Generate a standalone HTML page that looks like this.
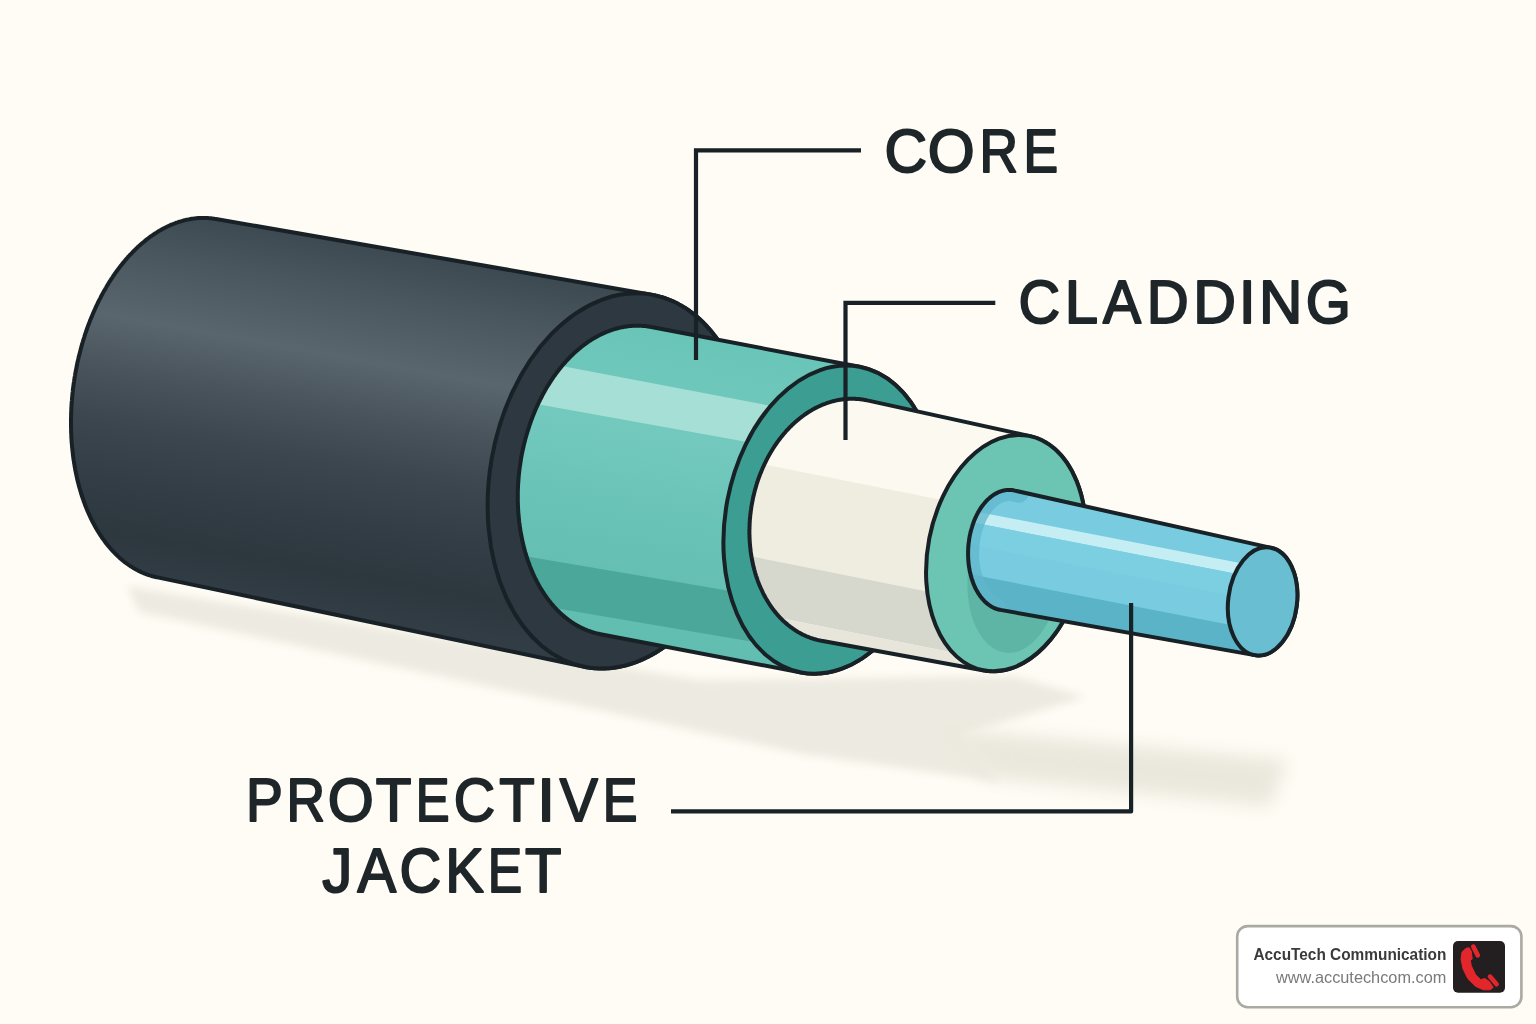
<!DOCTYPE html>
<html><head><meta charset="utf-8"><style>
html,body{margin:0;padding:0;width:1536px;height:1024px;overflow:hidden;background:#fefcf4}
svg{display:block}
</style></head><body>
<svg width="1536" height="1024" viewBox="0 0 1536 1024" style="position:absolute;left:0;top:0"><defs><clipPath id="cj"><path d="M215.9 219.0 L651.4 294.7 L652.6 294.9 L653.7 295.1 L654.8 295.3 L655.9 295.6 L657.0 295.8 L658.1 296.1 L659.2 296.4 L660.2 296.7 L661.3 297.0 L662.4 297.3 L663.5 297.7 L664.6 298.0 L665.6 298.4 L666.7 298.8 L667.8 299.2 L668.8 299.6 L669.9 300.0 L670.9 300.5 L672.0 300.9 L673.0 301.4 L674.1 301.9 L675.1 302.3 L676.2 302.9 L677.2 303.4 L678.2 303.9 L679.2 304.5 L680.2 305.0 L681.3 305.6 L682.3 306.2 L683.3 306.8 L684.3 307.4 L685.3 308.0 L686.2 308.7 L687.2 309.3 L688.2 310.0 L689.2 310.7 L690.1 311.4 L691.1 312.1 L692.0 312.8 L693.0 313.5 L693.9 314.3 L694.9 315.0 L695.8 315.8 L696.7 316.6 L697.7 317.4 L698.6 318.2 L699.5 319.0 L700.4 319.8 L701.3 320.7 L702.2 321.5 L703.1 322.4 L703.9 323.3 L704.8 324.2 L705.7 325.1 L706.5 326.0 L707.4 326.9 L708.2 327.9 L709.0 328.8 L709.9 329.8 L710.7 330.7 L711.5 331.7 L712.3 332.7 L713.1 333.7 L713.9 334.8 L714.7 335.8 L715.5 336.8 L716.3 337.9 L717.0 338.9 L717.8 340.0 L718.5 341.1 L719.3 342.2 L720.0 343.3 L720.7 344.4 L721.5 345.6 L722.2 346.7 L722.9 347.8 L723.6 349.0 L724.3 350.2 L724.9 351.3 L725.6 352.5 L726.3 353.7 L726.9 354.9 L727.6 356.2 L728.2 357.4 L728.9 358.6 L729.5 359.9 L730.1 361.1 L730.7 362.4 L731.3 363.7 L731.9 364.9 L732.5 366.2 L733.0 367.5 L733.6 368.8 L734.1 370.2 L734.7 371.5 L735.2 372.8 L735.8 374.2 L736.3 375.5 L736.8 376.9 L737.3 378.2 L737.8 379.6 L738.3 381.0 L738.7 382.4 L739.2 383.8 L739.7 385.2 L740.1 386.6 L740.5 388.0 L741.0 389.4 L741.4 390.9 L741.8 392.3 L742.2 393.7 L742.6 395.2 L743.0 396.7 L743.3 398.1 L743.7 399.6 L744.0 401.1 L744.4 402.6 L744.7 404.0 L745.0 405.5 L745.4 407.0 L745.7 408.5 L746.0 410.1 L746.2 411.6 L746.5 413.1 L746.8 414.6 L747.0 416.2 L747.3 417.7 L747.5 419.2 L747.8 420.8 L748.0 422.3 L748.2 423.9 L748.4 425.5 L748.6 427.0 L748.7 428.6 L748.9 430.2 L749.1 431.8 L749.2 433.3 L749.4 434.9 L749.5 436.5 L749.6 438.1 L749.7 439.7 L749.8 441.3 L749.9 442.9 L750.0 444.5 L750.0 446.1 L750.1 447.7 L750.1 449.3 L750.2 450.9 L750.2 452.6 L750.2 454.2 L750.2 455.8 L750.2 457.4 L750.2 459.0 L750.2 460.7 L750.2 462.3 L750.1 463.9 L750.1 465.6 L750.0 467.2 L749.9 468.8 L749.9 470.5 L749.8 472.1 L749.7 473.7 L749.6 475.4 L749.4 477.0 L749.3 478.6 L749.2 480.3 L749.0 481.9 L748.8 483.5 L748.7 485.2 L748.5 486.8 L748.3 488.5 L748.1 490.1 L747.9 491.7 L747.7 493.4 L747.4 495.0 L747.2 496.6 L747.0 498.3 L746.7 499.9 L746.4 501.5 L746.1 503.1 L745.9 504.8 L745.6 506.4 L745.3 508.0 L744.9 509.6 L744.6 511.2 L744.3 512.9 L743.9 514.5 L743.6 516.1 L743.2 517.7 L742.8 519.3 L742.4 520.9 L742.1 522.5 L741.6 524.1 L741.2 525.7 L740.8 527.3 L740.4 528.8 L739.9 530.4 L739.5 532.0 L739.0 533.6 L738.6 535.1 L738.1 536.7 L737.6 538.3 L737.1 539.8 L736.6 541.4 L736.1 542.9 L735.6 544.5 L735.0 546.0 L734.5 547.5 L734.0 549.1 L733.4 550.6 L732.8 552.1 L732.3 553.6 L731.7 555.1 L731.1 556.6 L730.5 558.1 L729.9 559.6 L729.3 561.1 L728.6 562.6 L728.0 564.0 L727.4 565.5 L726.7 566.9 L726.0 568.4 L725.4 569.8 L724.7 571.3 L724.0 572.7 L723.3 574.1 L722.6 575.6 L721.9 577.0 L721.2 578.4 L720.5 579.8 L719.8 581.1 L719.0 582.5 L718.3 583.9 L717.5 585.3 L716.8 586.6 L716.0 588.0 L715.2 589.3 L714.4 590.6 L713.6 592.0 L712.8 593.3 L712.0 594.6 L711.2 595.9 L710.4 597.2 L709.6 598.4 L708.7 599.7 L707.9 601.0 L707.1 602.2 L706.2 603.5 L705.4 604.7 L704.5 605.9 L703.6 607.2 L702.7 608.4 L701.8 609.6 L701.0 610.7 L700.1 611.9 L699.2 613.1 L698.2 614.2 L697.3 615.4 L696.4 616.5 L695.5 617.6 L694.5 618.8 L693.6 619.9 L692.7 621.0 L691.7 622.0 L690.8 623.1 L689.8 624.2 L688.8 625.2 L687.8 626.3 L686.9 627.3 L685.9 628.3 L684.9 629.3 L683.9 630.3 L682.9 631.3 L681.9 632.3 L680.9 633.2 L679.9 634.2 L678.9 635.1 L677.8 636.0 L676.8 637.0 L675.8 637.9 L674.8 638.8 L673.7 639.6 L672.7 640.5 L671.6 641.4 L670.6 642.2 L669.5 643.0 L668.5 643.8 L667.4 644.6 L666.3 645.4 L665.3 646.2 L664.2 647.0 L663.1 647.7 L662.0 648.5 L660.9 649.2 L659.9 649.9 L658.8 650.6 L657.7 651.3 L656.6 652.0 L655.5 652.7 L654.4 653.3 L653.3 653.9 L652.2 654.6 L651.0 655.2 L649.9 655.8 L648.8 656.4 L647.7 656.9 L646.6 657.5 L645.5 658.0 L644.3 658.6 L643.2 659.1 L642.1 659.6 L641.0 660.1 L639.8 660.6 L638.7 661.0 L637.6 661.5 L636.4 661.9 L635.3 662.3 L634.2 662.7 L633.0 663.1 L631.9 663.5 L630.7 663.9 L629.6 664.2 L628.5 664.6 L627.3 664.9 L626.2 665.2 L625.0 665.5 L623.9 665.8 L622.7 666.1 L621.6 666.3 L620.4 666.6 L619.3 666.8 L618.1 667.0 L617.0 667.2 L615.9 667.4 L614.7 667.5 L613.6 667.7 L612.4 667.8 L611.3 668.0 L610.1 668.1 L609.0 668.2 L607.8 668.3 L606.7 668.3 L605.6 668.4 L604.4 668.4 L603.3 668.5 L602.1 668.5 L601.0 668.5 L599.9 668.5 L598.7 668.4 L597.6 668.4 L596.5 668.3 L595.4 668.2 L594.2 668.2 L593.1 668.1 L592.0 667.9 L590.9 667.8 L589.7 667.7 L588.6 667.5 L587.5 667.3 L586.4 667.2 L585.3 667.0 L584.2 666.7 L583.1 666.5 L157.5 577.4 L156.5 577.2 L155.5 577.0 L154.6 576.8 L153.6 576.5 L152.6 576.3 L151.6 576.0 L150.7 575.7 L149.7 575.4 L148.8 575.1 L147.8 574.8 L146.8 574.4 L145.9 574.1 L144.9 573.7 L144.0 573.3 L143.0 572.9 L142.1 572.5 L141.2 572.1 L140.2 571.6 L139.3 571.2 L138.4 570.7 L137.5 570.3 L136.5 569.8 L135.6 569.3 L134.7 568.8 L133.8 568.2 L132.9 567.7 L132.0 567.1 L131.1 566.6 L130.2 566.0 L129.4 565.4 L128.5 564.8 L127.6 564.2 L126.7 563.6 L125.9 562.9 L125.0 562.3 L124.1 561.6 L123.3 560.9 L122.4 560.2 L121.6 559.5 L120.8 558.8 L119.9 558.1 L119.1 557.3 L118.3 556.6 L117.5 555.8 L116.7 555.0 L115.9 554.3 L115.1 553.5 L114.3 552.6 L113.5 551.8 L112.7 551.0 L111.9 550.1 L111.1 549.3 L110.4 548.4 L109.6 547.5 L108.9 546.6 L108.1 545.7 L107.4 544.8 L106.6 543.9 L105.9 543.0 L105.2 542.0 L104.5 541.0 L103.8 540.1 L103.0 539.1 L102.3 538.1 L101.7 537.1 L101.0 536.1 L100.3 535.1 L99.6 534.0 L99.0 533.0 L98.3 531.9 L97.6 530.9 L97.0 529.8 L96.4 528.7 L95.7 527.6 L95.1 526.5 L94.5 525.4 L93.9 524.3 L93.3 523.1 L92.7 522.0 L92.1 520.8 L91.5 519.7 L90.9 518.5 L90.4 517.3 L89.8 516.1 L89.3 514.9 L88.7 513.7 L88.2 512.5 L87.7 511.3 L87.1 510.1 L86.6 508.8 L86.1 507.6 L85.6 506.3 L85.1 505.0 L84.7 503.8 L84.2 502.5 L83.7 501.2 L83.3 499.9 L82.8 498.6 L82.4 497.3 L81.9 496.0 L81.5 494.6 L81.1 493.3 L80.7 492.0 L80.3 490.6 L79.9 489.2 L79.5 487.9 L79.1 486.5 L78.7 485.1 L78.4 483.7 L78.0 482.4 L77.7 481.0 L77.3 479.6 L77.0 478.1 L76.7 476.7 L76.4 475.3 L76.1 473.9 L75.8 472.4 L75.5 471.0 L75.2 469.6 L75.0 468.1 L74.7 466.7 L74.5 465.2 L74.2 463.7 L74.0 462.3 L73.8 460.8 L73.5 459.3 L73.3 457.8 L73.1 456.3 L72.9 454.8 L72.8 453.3 L72.6 451.8 L72.4 450.3 L72.3 448.8 L72.1 447.3 L72.0 445.8 L71.9 444.3 L71.7 442.7 L71.6 441.2 L71.5 439.7 L71.4 438.2 L71.3 436.6 L71.3 435.1 L71.2 433.5 L71.1 432.0 L71.1 430.4 L71.1 428.9 L71.0 427.3 L71.0 425.8 L71.0 424.2 L71.0 422.7 L71.0 421.1 L71.0 419.5 L71.0 418.0 L71.1 416.4 L71.1 414.8 L71.1 413.3 L71.2 411.7 L71.3 410.1 L71.3 408.6 L71.4 407.0 L71.5 405.4 L71.6 403.8 L71.7 402.3 L71.9 400.7 L72.0 399.1 L72.1 397.5 L72.3 396.0 L72.4 394.4 L72.6 392.8 L72.8 391.2 L72.9 389.7 L73.1 388.1 L73.3 386.5 L73.5 384.9 L73.7 383.4 L74.0 381.8 L74.2 380.2 L74.4 378.7 L74.7 377.1 L75.0 375.5 L75.2 374.0 L75.5 372.4 L75.8 370.9 L76.1 369.3 L76.4 367.8 L76.7 366.2 L77.0 364.7 L77.3 363.1 L77.7 361.6 L78.0 360.0 L78.4 358.5 L78.7 357.0 L79.1 355.4 L79.5 353.9 L79.9 352.4 L80.3 350.9 L80.7 349.3 L81.1 347.8 L81.5 346.3 L81.9 344.8 L82.3 343.3 L82.8 341.8 L83.2 340.3 L83.7 338.8 L84.2 337.3 L84.6 335.9 L85.1 334.4 L85.6 332.9 L86.1 331.5 L86.6 330.0 L87.1 328.5 L87.6 327.1 L88.2 325.6 L88.7 324.2 L89.3 322.8 L89.8 321.3 L90.4 319.9 L90.9 318.5 L91.5 317.1 L92.1 315.7 L92.7 314.3 L93.3 312.9 L93.9 311.5 L94.5 310.1 L95.1 308.8 L95.7 307.4 L96.3 306.1 L97.0 304.7 L97.6 303.4 L98.3 302.0 L98.9 300.7 L99.6 299.4 L100.3 298.1 L100.9 296.8 L101.6 295.5 L102.3 294.2 L103.0 292.9 L103.7 291.6 L104.4 290.4 L105.2 289.1 L105.9 287.9 L106.6 286.6 L107.3 285.4 L108.1 284.2 L108.8 282.9 L109.6 281.7 L110.3 280.5 L111.1 279.3 L111.9 278.2 L112.7 277.0 L113.4 275.8 L114.2 274.7 L115.0 273.5 L115.8 272.4 L116.6 271.3 L117.4 270.2 L118.3 269.1 L119.1 268.0 L119.9 266.9 L120.7 265.8 L121.6 264.8 L122.4 263.7 L123.3 262.7 L124.1 261.6 L125.0 260.6 L125.8 259.6 L126.7 258.6 L127.6 257.6 L128.4 256.6 L129.3 255.7 L130.2 254.7 L131.1 253.8 L132.0 252.8 L132.9 251.9 L133.8 251.0 L134.7 250.1 L135.6 249.2 L136.5 248.3 L137.4 247.4 L138.4 246.6 L139.3 245.7 L140.2 244.9 L141.1 244.1 L142.1 243.3 L143.0 242.5 L144.0 241.7 L144.9 240.9 L145.9 240.1 L146.8 239.4 L147.8 238.7 L148.7 237.9 L149.7 237.2 L150.6 236.5 L151.6 235.8 L152.6 235.1 L153.6 234.5 L154.5 233.8 L155.5 233.2 L156.5 232.6 L157.5 231.9 L158.5 231.3 L159.4 230.8 L160.4 230.2 L161.4 229.6 L162.4 229.1 L163.4 228.5 L164.4 228.0 L165.4 227.5 L166.4 227.0 L167.4 226.5 L168.4 226.0 L169.4 225.6 L170.4 225.1 L171.4 224.7 L172.4 224.3 L173.5 223.9 L174.5 223.5 L175.5 223.1 L176.5 222.7 L177.5 222.4 L178.5 222.0 L179.5 221.7 L180.6 221.4 L181.6 221.1 L182.6 220.8 L183.6 220.5 L184.6 220.3 L185.6 220.0 L186.7 219.8 L187.7 219.6 L188.7 219.4 L189.7 219.2 L190.7 219.0 L191.8 218.8 L192.8 218.7 L193.8 218.6 L194.8 218.4 L195.8 218.3 L196.8 218.2 L197.9 218.1 L198.9 218.1 L199.9 218.0 L200.9 218.0 L201.9 218.0 L202.9 217.9 L203.9 217.9 L204.9 218.0 L205.9 218.0 L206.9 218.0 L207.9 218.1 L208.9 218.2 L209.9 218.2 L210.9 218.3 L211.9 218.4 L212.9 218.6 L213.9 218.7 L214.9 218.9 Z"/></clipPath><clipPath id="ct"><path d="M600.5 634.2 L599.5 634.0 L598.6 633.8 L597.7 633.6 L596.8 633.4 L595.9 633.2 L595.0 632.9 L594.1 632.7 L593.2 632.4 L592.3 632.1 L591.4 631.8 L590.5 631.6 L589.6 631.2 L588.7 630.9 L587.8 630.6 L587.0 630.2 L586.1 629.9 L585.2 629.5 L584.3 629.1 L583.5 628.7 L582.6 628.3 L581.7 627.9 L580.9 627.5 L580.0 627.1 L579.2 626.6 L578.3 626.2 L577.5 625.7 L576.6 625.2 L575.8 624.7 L575.0 624.2 L574.1 623.7 L573.3 623.2 L572.5 622.7 L571.7 622.1 L570.9 621.6 L570.0 621.0 L569.2 620.4 L568.4 619.8 L567.6 619.2 L566.8 618.6 L566.1 618.0 L565.3 617.4 L564.5 616.7 L563.7 616.1 L563.0 615.4 L562.2 614.8 L561.4 614.1 L560.7 613.4 L559.9 612.7 L559.2 612.0 L558.4 611.2 L557.7 610.5 L557.0 609.8 L556.3 609.0 L555.5 608.3 L554.8 607.5 L554.1 606.7 L553.4 605.9 L552.7 605.1 L552.0 604.3 L551.3 603.5 L550.7 602.7 L550.0 601.8 L549.3 601.0 L548.6 600.1 L548.0 599.3 L547.3 598.4 L546.7 597.5 L546.1 596.6 L545.4 595.7 L544.8 594.8 L544.2 593.9 L543.6 592.9 L543.0 592.0 L542.3 591.1 L541.8 590.1 L541.2 589.2 L540.6 588.2 L540.0 587.2 L539.4 586.2 L538.9 585.2 L538.3 584.2 L537.8 583.2 L537.2 582.2 L536.7 581.2 L536.2 580.1 L535.6 579.1 L535.1 578.1 L534.6 577.0 L534.1 575.9 L533.6 574.9 L533.1 573.8 L532.6 572.7 L532.2 571.6 L531.7 570.5 L531.2 569.4 L530.8 568.3 L530.3 567.2 L529.9 566.1 L529.5 564.9 L529.1 563.8 L528.6 562.7 L528.2 561.5 L527.8 560.4 L527.4 559.2 L527.0 558.0 L526.7 556.8 L526.3 555.7 L525.9 554.5 L525.6 553.3 L525.2 552.1 L524.9 550.9 L524.6 549.7 L524.2 548.5 L523.9 547.3 L523.6 546.0 L523.3 544.8 L523.0 543.6 L522.7 542.3 L522.4 541.1 L522.2 539.8 L521.9 538.6 L521.7 537.3 L521.4 536.1 L521.2 534.8 L520.9 533.5 L520.7 532.3 L520.5 531.0 L520.3 529.7 L520.1 528.4 L519.9 527.1 L519.7 525.8 L519.5 524.6 L519.4 523.3 L519.2 522.0 L519.1 520.7 L518.9 519.3 L518.8 518.0 L518.7 516.7 L518.6 515.4 L518.4 514.1 L518.3 512.8 L518.2 511.4 L518.2 510.1 L518.1 508.8 L518.0 507.5 L518.0 506.1 L517.9 504.8 L517.9 503.5 L517.8 502.1 L517.8 500.8 L517.8 499.4 L517.8 498.1 L517.8 496.7 L517.8 495.4 L517.8 494.1 L517.8 492.7 L517.8 491.4 L517.9 490.0 L517.9 488.7 L518.0 487.3 L518.0 486.0 L518.1 484.6 L518.2 483.3 L518.3 481.9 L518.4 480.5 L518.5 479.2 L518.6 477.8 L518.7 476.5 L518.8 475.1 L519.0 473.8 L519.1 472.4 L519.3 471.1 L519.4 469.7 L519.6 468.4 L519.8 467.0 L520.0 465.7 L520.2 464.4 L520.4 463.0 L520.6 461.7 L520.8 460.3 L521.0 459.0 L521.2 457.6 L521.5 456.3 L521.7 455.0 L522.0 453.6 L522.3 452.3 L522.5 451.0 L522.8 449.7 L523.1 448.3 L523.4 447.0 L523.7 445.7 L524.0 444.4 L524.3 443.1 L524.7 441.8 L525.0 440.5 L525.3 439.1 L525.7 437.8 L526.1 436.5 L526.4 435.3 L526.8 434.0 L527.2 432.7 L527.6 431.4 L528.0 430.1 L528.4 428.8 L528.8 427.6 L529.2 426.3 L529.6 425.0 L530.1 423.8 L530.5 422.5 L530.9 421.3 L531.4 420.0 L531.9 418.8 L532.3 417.5 L532.8 416.3 L533.3 415.1 L533.8 413.9 L534.3 412.6 L534.8 411.4 L535.3 410.2 L535.8 409.0 L536.3 407.8 L536.9 406.6 L537.4 405.4 L537.9 404.3 L538.5 403.1 L539.1 401.9 L539.6 400.8 L540.2 399.6 L540.8 398.5 L541.4 397.3 L542.0 396.2 L542.5 395.0 L543.2 393.9 L543.8 392.8 L544.4 391.7 L545.0 390.6 L545.6 389.5 L546.3 388.4 L546.9 387.3 L547.6 386.2 L548.2 385.2 L548.9 384.1 L549.5 383.1 L550.2 382.0 L550.9 381.0 L551.6 379.9 L552.3 378.9 L552.9 377.9 L553.6 376.9 L554.3 375.9 L555.1 374.9 L555.8 373.9 L556.5 372.9 L557.2 372.0 L558.0 371.0 L558.7 370.1 L559.4 369.1 L560.2 368.2 L560.9 367.3 L561.7 366.3 L562.4 365.4 L563.2 364.5 L564.0 363.6 L564.8 362.8 L565.5 361.9 L566.3 361.0 L567.1 360.2 L567.9 359.3 L568.7 358.5 L569.5 357.7 L570.3 356.8 L571.1 356.0 L571.9 355.2 L572.8 354.4 L573.6 353.7 L574.4 352.9 L575.2 352.1 L576.1 351.4 L576.9 350.6 L577.8 349.9 L578.6 349.2 L579.5 348.5 L580.3 347.8 L581.2 347.1 L582.0 346.4 L582.9 345.7 L583.8 345.1 L584.6 344.4 L585.5 343.8 L586.4 343.1 L587.3 342.5 L588.1 341.9 L589.0 341.3 L589.9 340.7 L590.8 340.2 L591.7 339.6 L592.6 339.0 L593.5 338.5 L594.4 338.0 L595.3 337.4 L596.2 336.9 L597.1 336.4 L598.0 335.9 L598.9 335.5 L599.9 335.0 L600.8 334.5 L601.7 334.1 L602.6 333.7 L603.5 333.2 L604.5 332.8 L605.4 332.4 L606.3 332.0 L607.2 331.7 L608.2 331.3 L609.1 330.9 L610.0 330.6 L611.0 330.3 L611.9 329.9 L612.8 329.6 L613.8 329.3 L614.7 329.0 L615.6 328.8 L616.6 328.5 L617.5 328.3 L618.5 328.0 L619.4 327.8 L620.3 327.6 L621.3 327.4 L622.2 327.2 L623.2 327.0 L624.1 326.8 L625.1 326.7 L626.0 326.5 L626.9 326.4 L627.9 326.3 L628.8 326.1 L629.8 326.0 L630.7 326.0 L631.7 325.9 L632.6 325.8 L633.5 325.8 L634.5 325.7 L635.4 325.7 L636.4 325.7 L637.3 325.7 L638.2 325.7 L639.2 325.7 L640.1 325.7 L641.0 325.8 L642.0 325.8 L642.9 325.9 L643.8 326.0 L644.8 326.0 L645.7 326.1 L646.6 326.3 L647.5 326.4 L648.5 326.5 L649.4 326.7 L650.3 326.8 L651.2 327.0 L859.5 366.8 L860.4 367.0 L861.3 367.2 L862.2 367.4 L863.1 367.6 L863.9 367.8 L864.8 368.1 L865.7 368.3 L866.6 368.6 L867.5 368.9 L868.3 369.1 L869.2 369.4 L870.1 369.7 L870.9 370.0 L871.8 370.4 L872.7 370.7 L873.5 371.1 L874.4 371.4 L875.2 371.8 L876.1 372.2 L876.9 372.6 L877.7 373.0 L878.6 373.4 L879.4 373.8 L880.2 374.3 L881.0 374.7 L881.9 375.2 L882.7 375.6 L883.5 376.1 L884.3 376.6 L885.1 377.1 L885.9 377.6 L886.7 378.2 L887.5 378.7 L888.3 379.3 L889.1 379.8 L889.8 380.4 L890.6 381.0 L891.4 381.6 L892.1 382.2 L892.9 382.8 L893.6 383.4 L894.4 384.0 L895.1 384.7 L895.9 385.3 L896.6 386.0 L897.3 386.7 L898.1 387.3 L898.8 388.0 L899.5 388.7 L900.2 389.5 L900.9 390.2 L901.6 390.9 L902.3 391.7 L903.0 392.4 L903.7 393.2 L904.3 393.9 L905.0 394.7 L905.7 395.5 L906.3 396.3 L907.0 397.1 L907.6 398.0 L908.3 398.8 L908.9 399.6 L909.5 400.5 L910.2 401.3 L910.8 402.2 L911.4 403.1 L912.0 403.9 L912.6 404.8 L913.2 405.7 L913.8 406.6 L914.4 407.6 L914.9 408.5 L915.5 409.4 L916.1 410.4 L916.6 411.3 L917.2 412.3 L917.7 413.3 L918.2 414.2 L918.8 415.2 L919.3 416.2 L919.8 417.2 L920.3 418.2 L920.8 419.2 L921.3 420.3 L921.8 421.3 L922.3 422.3 L922.7 423.4 L923.2 424.4 L923.6 425.5 L924.1 426.6 L924.5 427.6 L925.0 428.7 L925.4 429.8 L925.8 430.9 L926.2 432.0 L926.7 433.1 L927.1 434.2 L927.4 435.3 L927.8 436.5 L928.2 437.6 L928.6 438.7 L928.9 439.9 L929.3 441.0 L929.6 442.2 L930.0 443.4 L930.3 444.5 L930.6 445.7 L931.0 446.9 L931.3 448.1 L931.6 449.3 L931.9 450.5 L932.2 451.7 L932.4 452.9 L932.7 454.1 L933.0 455.3 L933.2 456.5 L933.5 457.8 L933.7 459.0 L933.9 460.3 L934.2 461.5 L934.4 462.7 L934.6 464.0 L934.8 465.2 L935.0 466.5 L935.2 467.8 L935.3 469.0 L935.5 470.3 L935.7 471.6 L935.8 472.9 L936.0 474.1 L936.1 475.4 L936.2 476.7 L936.4 478.0 L936.5 479.3 L936.6 480.6 L936.7 481.9 L936.8 483.2 L936.8 484.5 L936.9 485.8 L937.0 487.2 L937.0 488.5 L937.1 489.8 L937.1 491.1 L937.1 492.4 L937.2 493.8 L937.2 495.1 L937.2 496.4 L937.2 497.7 L937.2 499.1 L937.2 500.4 L937.1 501.7 L937.1 503.1 L937.1 504.4 L937.0 505.7 L937.0 507.1 L936.9 508.4 L936.8 509.8 L936.7 511.1 L936.6 512.5 L936.5 513.8 L936.4 515.1 L936.3 516.5 L936.2 517.8 L936.1 519.2 L935.9 520.5 L935.8 521.9 L935.6 523.2 L935.5 524.5 L935.3 525.9 L935.1 527.2 L934.9 528.6 L934.7 529.9 L934.5 531.3 L934.3 532.6 L934.1 533.9 L933.9 535.3 L933.6 536.6 L933.4 538.0 L933.1 539.3 L932.9 540.6 L932.6 541.9 L932.3 543.3 L932.0 544.6 L931.8 545.9 L931.5 547.3 L931.2 548.6 L930.8 549.9 L930.5 551.2 L930.2 552.5 L929.9 553.8 L929.5 555.2 L929.2 556.5 L928.8 557.8 L928.4 559.1 L928.1 560.4 L927.7 561.7 L927.3 562.9 L926.9 564.2 L926.5 565.5 L926.1 566.8 L925.7 568.1 L925.2 569.4 L924.8 570.6 L924.4 571.9 L923.9 573.2 L923.5 574.4 L923.0 575.7 L922.5 576.9 L922.1 578.2 L921.6 579.4 L921.1 580.6 L920.6 581.9 L920.1 583.1 L919.6 584.3 L919.1 585.5 L918.6 586.8 L918.0 588.0 L917.5 589.2 L916.9 590.4 L916.4 591.6 L915.8 592.7 L915.3 593.9 L914.7 595.1 L914.1 596.3 L913.6 597.4 L913.0 598.6 L912.4 599.7 L911.8 600.9 L911.2 602.0 L910.6 603.2 L909.9 604.3 L909.3 605.4 L908.7 606.5 L908.0 607.6 L907.4 608.7 L906.7 609.8 L906.1 610.9 L905.4 612.0 L904.8 613.1 L904.1 614.1 L903.4 615.2 L902.7 616.2 L902.0 617.3 L901.3 618.3 L900.6 619.3 L899.9 620.4 L899.2 621.4 L898.5 622.4 L897.8 623.4 L897.1 624.4 L896.3 625.4 L895.6 626.3 L894.9 627.3 L894.1 628.3 L893.4 629.2 L892.6 630.1 L891.9 631.1 L891.1 632.0 L890.3 632.9 L889.5 633.8 L888.8 634.7 L888.0 635.6 L887.2 636.5 L886.4 637.4 L885.6 638.2 L884.8 639.1 L884.0 639.9 L883.2 640.8 L882.4 641.6 L881.6 642.4 L880.7 643.2 L879.9 644.0 L879.1 644.8 L878.3 645.6 L877.4 646.3 L876.6 647.1 L875.7 647.9 L874.9 648.6 L874.0 649.3 L873.2 650.1 L872.3 650.8 L871.5 651.5 L870.6 652.2 L869.7 652.8 L868.9 653.5 L868.0 654.2 L867.1 654.8 L866.3 655.5 L865.4 656.1 L864.5 656.7 L863.6 657.3 L862.7 657.9 L861.8 658.5 L860.9 659.1 L860.0 659.6 L859.1 660.2 L858.3 660.7 L857.3 661.3 L856.4 661.8 L855.5 662.3 L854.6 662.8 L853.7 663.3 L852.8 663.8 L851.9 664.3 L851.0 664.7 L850.1 665.2 L849.2 665.6 L848.2 666.0 L847.3 666.4 L846.4 666.8 L845.5 667.2 L844.5 667.6 L843.6 668.0 L842.7 668.3 L841.8 668.7 L840.8 669.0 L839.9 669.3 L839.0 669.7 L838.1 670.0 L837.1 670.2 L836.2 670.5 L835.3 670.8 L834.3 671.0 L833.4 671.3 L832.5 671.5 L831.5 671.7 L830.6 672.0 L829.7 672.1 L828.7 672.3 L827.8 672.5 L826.9 672.7 L825.9 672.8 L825.0 673.0 L824.1 673.1 L823.1 673.2 L822.2 673.3 L821.3 673.4 L820.3 673.5 L819.4 673.5 L818.5 673.6 L817.6 673.6 L816.6 673.7 L815.7 673.7 L814.8 673.7 L813.9 673.7 L812.9 673.7 L812.0 673.7 L811.1 673.6 L810.2 673.6 L809.3 673.5 L808.4 673.5 L807.5 673.4 L806.5 673.3 L805.6 673.2 L804.7 673.1 L803.8 672.9 L802.9 672.8 L802.0 672.6 L801.1 672.5 Z"/></clipPath><clipPath id="cc"><path d="M821.4 640.8 L820.6 640.6 L819.8 640.4 L819.0 640.3 L818.2 640.1 L817.4 639.9 L816.6 639.7 L815.9 639.5 L815.1 639.3 L814.3 639.1 L813.5 638.8 L812.7 638.6 L812.0 638.3 L811.2 638.1 L810.4 637.8 L809.7 637.5 L808.9 637.2 L808.1 636.9 L807.4 636.6 L806.6 636.3 L805.9 636.0 L805.1 635.7 L804.4 635.3 L803.7 635.0 L802.9 634.6 L802.2 634.3 L801.4 633.9 L800.7 633.5 L800.0 633.1 L799.3 632.7 L798.5 632.3 L797.8 631.9 L797.1 631.4 L796.4 631.0 L795.7 630.6 L795.0 630.1 L794.3 629.6 L793.6 629.2 L792.9 628.7 L792.2 628.2 L791.5 627.7 L790.8 627.2 L790.2 626.7 L789.5 626.2 L788.8 625.7 L788.2 625.1 L787.5 624.6 L786.9 624.0 L786.2 623.5 L785.6 622.9 L784.9 622.3 L784.3 621.8 L783.6 621.2 L783.0 620.6 L782.4 620.0 L781.8 619.4 L781.1 618.7 L780.5 618.1 L779.9 617.5 L779.3 616.8 L778.7 616.2 L778.1 615.5 L777.6 614.9 L777.0 614.2 L776.4 613.5 L775.8 612.8 L775.3 612.1 L774.7 611.4 L774.1 610.7 L773.6 610.0 L773.0 609.3 L772.5 608.6 L772.0 607.8 L771.4 607.1 L770.9 606.4 L770.4 605.6 L769.9 604.8 L769.4 604.1 L768.9 603.3 L768.4 602.5 L767.9 601.7 L767.4 600.9 L766.9 600.1 L766.5 599.3 L766.0 598.5 L765.5 597.7 L765.1 596.9 L764.6 596.1 L764.2 595.2 L763.7 594.4 L763.3 593.6 L762.9 592.7 L762.5 591.8 L762.1 591.0 L761.7 590.1 L761.3 589.2 L760.9 588.4 L760.5 587.5 L760.1 586.6 L759.7 585.7 L759.3 584.8 L759.0 583.9 L758.6 583.0 L758.3 582.1 L757.9 581.2 L757.6 580.3 L757.3 579.3 L756.9 578.4 L756.6 577.5 L756.3 576.5 L756.0 575.6 L755.7 574.6 L755.4 573.7 L755.1 572.7 L754.9 571.8 L754.6 570.8 L754.3 569.8 L754.1 568.9 L753.8 567.9 L753.6 566.9 L753.3 565.9 L753.1 564.9 L752.9 564.0 L752.7 563.0 L752.5 562.0 L752.3 561.0 L752.1 560.0 L751.9 559.0 L751.7 558.0 L751.5 556.9 L751.3 555.9 L751.2 554.9 L751.0 553.9 L750.9 552.9 L750.7 551.9 L750.6 550.8 L750.5 549.8 L750.4 548.8 L750.3 547.7 L750.1 546.7 L750.1 545.7 L750.0 544.6 L749.9 543.6 L749.8 542.5 L749.7 541.5 L749.7 540.5 L749.6 539.4 L749.6 538.4 L749.5 537.3 L749.5 536.3 L749.5 535.2 L749.4 534.1 L749.4 533.1 L749.4 532.0 L749.4 531.0 L749.4 529.9 L749.5 528.9 L749.5 527.8 L749.5 526.7 L749.6 525.7 L749.6 524.6 L749.6 523.6 L749.7 522.5 L749.8 521.4 L749.8 520.4 L749.9 519.3 L750.0 518.3 L750.1 517.2 L750.2 516.1 L750.3 515.1 L750.4 514.0 L750.6 513.0 L750.7 511.9 L750.8 510.8 L751.0 509.8 L751.1 508.7 L751.3 507.7 L751.4 506.6 L751.6 505.6 L751.8 504.5 L752.0 503.5 L752.2 502.4 L752.4 501.4 L752.6 500.3 L752.8 499.3 L753.0 498.2 L753.2 497.2 L753.5 496.1 L753.7 495.1 L754.0 494.1 L754.2 493.0 L754.5 492.0 L754.7 491.0 L755.0 489.9 L755.3 488.9 L755.6 487.9 L755.9 486.9 L756.2 485.8 L756.5 484.8 L756.8 483.8 L757.1 482.8 L757.5 481.8 L757.8 480.8 L758.1 479.8 L758.5 478.8 L758.8 477.8 L759.2 476.8 L759.6 475.8 L759.9 474.8 L760.3 473.8 L760.7 472.9 L761.1 471.9 L761.5 470.9 L761.9 470.0 L762.3 469.0 L762.7 468.0 L763.1 467.1 L763.6 466.1 L764.0 465.2 L764.5 464.2 L764.9 463.3 L765.4 462.4 L765.8 461.4 L766.3 460.5 L766.7 459.6 L767.2 458.7 L767.7 457.7 L768.2 456.8 L768.7 455.9 L769.2 455.0 L769.7 454.1 L770.2 453.3 L770.7 452.4 L771.2 451.5 L771.8 450.6 L772.3 449.8 L772.8 448.9 L773.4 448.0 L773.9 447.2 L774.5 446.4 L775.0 445.5 L775.6 444.7 L776.2 443.9 L776.7 443.0 L777.3 442.2 L777.9 441.4 L778.5 440.6 L779.1 439.8 L779.7 439.0 L780.3 438.2 L780.9 437.4 L781.5 436.7 L782.1 435.9 L782.8 435.1 L783.4 434.4 L784.0 433.6 L784.7 432.9 L785.3 432.2 L785.9 431.4 L786.6 430.7 L787.2 430.0 L787.9 429.3 L788.6 428.6 L789.2 427.9 L789.9 427.2 L790.6 426.5 L791.3 425.9 L791.9 425.2 L792.6 424.5 L793.3 423.9 L794.0 423.3 L794.7 422.6 L795.4 422.0 L796.1 421.4 L796.8 420.8 L797.5 420.2 L798.3 419.6 L799.0 419.0 L799.7 418.4 L800.4 417.8 L801.1 417.2 L801.9 416.7 L802.6 416.1 L803.4 415.6 L804.1 415.1 L804.8 414.5 L805.6 414.0 L806.3 413.5 L807.1 413.0 L807.8 412.5 L808.6 412.0 L809.4 411.5 L810.1 411.1 L810.9 410.6 L811.7 410.2 L812.4 409.7 L813.2 409.3 L814.0 408.8 L814.8 408.4 L815.5 408.0 L816.3 407.6 L817.1 407.2 L817.9 406.8 L818.7 406.5 L819.5 406.1 L820.3 405.7 L821.1 405.4 L821.9 405.0 L822.7 404.7 L823.4 404.4 L824.2 404.1 L825.1 403.8 L825.9 403.5 L826.7 403.2 L827.5 402.9 L828.3 402.6 L829.1 402.4 L829.9 402.1 L830.7 401.9 L831.5 401.6 L832.3 401.4 L833.1 401.2 L833.9 401.0 L834.8 400.8 L835.6 400.6 L836.4 400.4 L837.2 400.2 L838.0 400.1 L838.8 399.9 L839.6 399.8 L840.5 399.7 L841.3 399.5 L842.1 399.4 L842.9 399.3 L843.7 399.2 L844.6 399.1 L845.4 399.0 L846.2 399.0 L847.0 398.9 L847.8 398.9 L848.6 398.8 L849.4 398.8 L850.3 398.8 L851.1 398.7 L851.9 398.7 L852.7 398.7 L853.5 398.8 L854.3 398.8 L855.1 398.8 L856.0 398.9 L856.8 398.9 L857.6 399.0 L858.4 399.0 L859.2 399.1 L860.0 399.2 L860.8 399.3 L861.6 399.4 L862.4 399.5 L863.2 399.6 L864.0 399.8 L864.8 399.9 L865.6 400.1 L866.4 400.2 L867.2 400.4 L1030.1 436.1 L1030.8 436.3 L1031.4 436.4 L1032.1 436.6 L1032.7 436.8 L1033.4 437.0 L1034.1 437.2 L1034.7 437.4 L1035.4 437.6 L1036.0 437.8 L1036.7 438.0 L1037.3 438.3 L1038.0 438.5 L1038.6 438.8 L1039.2 439.1 L1039.9 439.3 L1040.5 439.6 L1041.1 439.9 L1041.8 440.2 L1042.4 440.5 L1043.0 440.8 L1043.6 441.2 L1044.2 441.5 L1044.8 441.8 L1045.5 442.2 L1046.1 442.6 L1046.7 442.9 L1047.3 443.3 L1047.9 443.7 L1048.5 444.1 L1049.1 444.5 L1049.6 444.9 L1050.2 445.3 L1050.8 445.7 L1051.4 446.2 L1052.0 446.6 L1052.5 447.1 L1053.1 447.5 L1053.7 448.0 L1054.2 448.5 L1054.8 449.0 L1055.3 449.5 L1055.9 450.0 L1056.4 450.5 L1057.0 451.0 L1057.5 451.5 L1058.0 452.0 L1058.6 452.6 L1059.1 453.1 L1059.6 453.7 L1060.1 454.2 L1060.7 454.8 L1061.2 455.4 L1061.7 456.0 L1062.2 456.6 L1062.7 457.2 L1063.2 457.8 L1063.6 458.4 L1064.1 459.0 L1064.6 459.6 L1065.1 460.3 L1065.6 460.9 L1066.0 461.5 L1066.5 462.2 L1066.9 462.9 L1067.4 463.5 L1067.8 464.2 L1068.3 464.9 L1068.7 465.6 L1069.1 466.3 L1069.6 467.0 L1070.0 467.7 L1070.4 468.4 L1070.8 469.1 L1071.2 469.9 L1071.6 470.6 L1072.0 471.3 L1072.4 472.1 L1072.8 472.8 L1073.2 473.6 L1073.6 474.4 L1074.0 475.1 L1074.3 475.9 L1074.7 476.7 L1075.0 477.5 L1075.4 478.3 L1075.7 479.1 L1076.1 479.9 L1076.4 480.7 L1076.8 481.5 L1077.1 482.4 L1077.4 483.2 L1077.7 484.0 L1078.0 484.9 L1078.3 485.7 L1078.6 486.5 L1078.9 487.4 L1079.2 488.3 L1079.5 489.1 L1079.8 490.0 L1080.0 490.9 L1080.3 491.8 L1080.6 492.6 L1080.8 493.5 L1081.1 494.4 L1081.3 495.3 L1081.5 496.2 L1081.8 497.1 L1082.0 498.0 L1082.2 498.9 L1082.4 499.9 L1082.6 500.8 L1082.8 501.7 L1083.0 502.6 L1083.2 503.6 L1083.4 504.5 L1083.6 505.5 L1083.8 506.4 L1083.9 507.4 L1084.1 508.3 L1084.2 509.3 L1084.4 510.2 L1084.5 511.2 L1084.7 512.2 L1084.8 513.1 L1084.9 514.1 L1085.1 515.1 L1085.2 516.0 L1085.3 517.0 L1085.4 518.0 L1085.5 519.0 L1085.6 520.0 L1085.6 521.0 L1085.7 522.0 L1085.8 523.0 L1085.8 524.0 L1085.9 525.0 L1086.0 526.0 L1086.0 527.0 L1086.0 528.0 L1086.1 529.0 L1086.1 530.0 L1086.1 531.0 L1086.1 532.0 L1086.2 533.0 L1086.2 534.1 L1086.2 535.1 L1086.1 536.1 L1086.1 537.1 L1086.1 538.1 L1086.1 539.2 L1086.1 540.2 L1086.0 541.2 L1086.0 542.2 L1085.9 543.3 L1085.9 544.3 L1085.8 545.3 L1085.7 546.4 L1085.6 547.4 L1085.6 548.4 L1085.5 549.5 L1085.4 550.5 L1085.3 551.5 L1085.2 552.5 L1085.1 553.6 L1084.9 554.6 L1084.8 555.6 L1084.7 556.7 L1084.6 557.7 L1084.4 558.7 L1084.3 559.8 L1084.1 560.8 L1084.0 561.8 L1083.8 562.8 L1083.6 563.9 L1083.4 564.9 L1083.3 565.9 L1083.1 567.0 L1082.9 568.0 L1082.7 569.0 L1082.5 570.0 L1082.3 571.0 L1082.0 572.1 L1081.8 573.1 L1081.6 574.1 L1081.3 575.1 L1081.1 576.1 L1080.9 577.1 L1080.6 578.1 L1080.3 579.1 L1080.1 580.2 L1079.8 581.2 L1079.5 582.2 L1079.3 583.2 L1079.0 584.2 L1078.7 585.1 L1078.4 586.1 L1078.1 587.1 L1077.8 588.1 L1077.4 589.1 L1077.1 590.1 L1076.8 591.1 L1076.5 592.0 L1076.1 593.0 L1075.8 594.0 L1075.4 594.9 L1075.1 595.9 L1074.7 596.9 L1074.4 597.8 L1074.0 598.8 L1073.6 599.7 L1073.3 600.7 L1072.9 601.6 L1072.5 602.5 L1072.1 603.5 L1071.7 604.4 L1071.3 605.3 L1070.9 606.3 L1070.5 607.2 L1070.1 608.1 L1069.6 609.0 L1069.2 609.9 L1068.8 610.8 L1068.3 611.7 L1067.9 612.6 L1067.4 613.5 L1067.0 614.4 L1066.5 615.3 L1066.1 616.1 L1065.6 617.0 L1065.1 617.9 L1064.7 618.7 L1064.2 619.6 L1063.7 620.4 L1063.2 621.3 L1062.7 622.1 L1062.2 623.0 L1061.7 623.8 L1061.2 624.6 L1060.7 625.4 L1060.2 626.2 L1059.7 627.0 L1059.2 627.9 L1058.6 628.6 L1058.1 629.4 L1057.6 630.2 L1057.0 631.0 L1056.5 631.8 L1056.0 632.5 L1055.4 633.3 L1054.9 634.1 L1054.3 634.8 L1053.7 635.5 L1053.2 636.3 L1052.6 637.0 L1052.0 637.7 L1051.5 638.5 L1050.9 639.2 L1050.3 639.9 L1049.7 640.6 L1049.1 641.3 L1048.5 641.9 L1047.9 642.6 L1047.4 643.3 L1046.8 643.9 L1046.1 644.6 L1045.5 645.3 L1044.9 645.9 L1044.3 646.5 L1043.7 647.2 L1043.1 647.8 L1042.5 648.4 L1041.8 649.0 L1041.2 649.6 L1040.6 650.2 L1040.0 650.8 L1039.3 651.4 L1038.7 651.9 L1038.0 652.5 L1037.4 653.0 L1036.8 653.6 L1036.1 654.1 L1035.5 654.7 L1034.8 655.2 L1034.2 655.7 L1033.5 656.2 L1032.8 656.7 L1032.2 657.2 L1031.5 657.7 L1030.9 658.2 L1030.2 658.6 L1029.5 659.1 L1028.9 659.5 L1028.2 660.0 L1027.5 660.4 L1026.8 660.8 L1026.2 661.3 L1025.5 661.7 L1024.8 662.1 L1024.1 662.5 L1023.4 662.9 L1022.8 663.2 L1022.1 663.6 L1021.4 664.0 L1020.7 664.3 L1020.0 664.7 L1019.3 665.0 L1018.6 665.3 L1017.9 665.7 L1017.3 666.0 L1016.6 666.3 L1015.9 666.6 L1015.2 666.8 L1014.5 667.1 L1013.8 667.4 L1013.1 667.6 L1012.4 667.9 L1011.7 668.1 L1011.0 668.4 L1010.3 668.6 L1009.6 668.8 L1008.9 669.0 L1008.2 669.2 L1007.5 669.4 L1006.8 669.6 L1006.1 669.8 L1005.4 669.9 L1004.7 670.1 L1004.0 670.2 L1003.3 670.3 L1002.6 670.5 L1001.9 670.6 L1001.2 670.7 L1000.5 670.8 L999.8 670.9 L999.1 671.0 L998.4 671.0 L997.7 671.1 L997.0 671.2 L996.3 671.2 L995.6 671.2 L995.0 671.3 L994.3 671.3 L993.6 671.3 L992.9 671.3 L992.2 671.3 L991.5 671.3 L990.8 671.2 L990.1 671.2 L989.4 671.2 L988.8 671.1 L988.1 671.0 L987.4 671.0 L986.7 670.9 L986.0 670.8 L985.4 670.7 L984.7 670.6 L984.0 670.5 Z"/></clipPath><clipPath id="ck"><path d="M1254.6 655.1 L1000.4 609.9 L1000.0 609.8 L999.7 609.7 L999.4 609.7 L999.0 609.6 L998.7 609.5 L998.4 609.4 L998.0 609.4 L997.7 609.3 L997.4 609.2 L997.1 609.1 L996.7 609.0 L996.4 608.8 L996.1 608.7 L995.8 608.6 L995.4 608.5 L995.1 608.4 L994.8 608.2 L994.5 608.1 L994.1 608.0 L993.8 607.8 L993.5 607.7 L993.2 607.5 L992.9 607.3 L992.6 607.2 L992.2 607.0 L991.9 606.8 L991.6 606.7 L991.3 606.5 L991.0 606.3 L990.7 606.1 L990.4 605.9 L990.1 605.7 L989.8 605.5 L989.5 605.3 L989.2 605.1 L988.9 604.9 L988.6 604.7 L988.3 604.4 L988.0 604.2 L987.7 604.0 L987.4 603.8 L987.1 603.5 L986.8 603.3 L986.5 603.0 L986.2 602.8 L985.9 602.5 L985.7 602.3 L985.4 602.0 L985.1 601.7 L984.8 601.5 L984.5 601.2 L984.3 600.9 L984.0 600.6 L983.7 600.3 L983.4 600.0 L983.2 599.7 L982.9 599.4 L982.6 599.1 L982.4 598.8 L982.1 598.5 L981.9 598.2 L981.6 597.9 L981.3 597.6 L981.1 597.3 L980.8 596.9 L980.6 596.6 L980.3 596.3 L980.1 595.9 L979.8 595.6 L979.6 595.2 L979.4 594.9 L979.1 594.5 L978.9 594.2 L978.7 593.8 L978.4 593.5 L978.2 593.1 L978.0 592.7 L977.7 592.4 L977.5 592.0 L977.3 591.6 L977.1 591.2 L976.9 590.8 L976.7 590.5 L976.4 590.1 L976.2 589.7 L976.0 589.3 L975.8 588.9 L975.6 588.5 L975.4 588.1 L975.2 587.7 L975.0 587.2 L974.8 586.8 L974.6 586.4 L974.5 586.0 L974.3 585.6 L974.1 585.1 L973.9 584.7 L973.7 584.3 L973.6 583.9 L973.4 583.4 L973.2 583.0 L973.1 582.5 L972.9 582.1 L972.7 581.6 L972.6 581.2 L972.4 580.7 L972.3 580.3 L972.1 579.8 L972.0 579.4 L971.8 578.9 L971.7 578.5 L971.5 578.0 L971.4 577.5 L971.3 577.1 L971.1 576.6 L971.0 576.1 L970.9 575.6 L970.7 575.2 L970.6 574.7 L970.5 574.2 L970.4 573.7 L970.3 573.2 L970.2 572.8 L970.0 572.3 L969.9 571.8 L969.8 571.3 L969.7 570.8 L969.6 570.3 L969.5 569.8 L969.5 569.3 L969.4 568.8 L969.3 568.3 L969.2 567.8 L969.1 567.3 L969.0 566.8 L969.0 566.3 L968.9 565.8 L968.8 565.3 L968.8 564.8 L968.7 564.3 L968.6 563.8 L968.6 563.3 L968.5 562.7 L968.5 562.2 L968.4 561.7 L968.4 561.2 L968.4 560.7 L968.3 560.2 L968.3 559.6 L968.2 559.1 L968.2 558.6 L968.2 558.1 L968.2 557.6 L968.1 557.0 L968.1 556.5 L968.1 556.0 L968.1 555.5 L968.1 555.0 L968.1 554.4 L968.1 553.9 L968.1 553.4 L968.1 552.9 L968.1 552.3 L968.1 551.8 L968.1 551.3 L968.1 550.8 L968.1 550.2 L968.2 549.7 L968.2 549.2 L968.2 548.7 L968.2 548.1 L968.3 547.6 L968.3 547.1 L968.3 546.6 L968.4 546.0 L968.4 545.5 L968.5 545.0 L968.5 544.5 L968.6 543.9 L968.6 543.4 L968.7 542.9 L968.7 542.4 L968.8 541.9 L968.9 541.3 L969.0 540.8 L969.0 540.3 L969.1 539.8 L969.2 539.3 L969.3 538.8 L969.3 538.2 L969.4 537.7 L969.5 537.2 L969.6 536.7 L969.7 536.2 L969.8 535.7 L969.9 535.2 L970.0 534.7 L970.1 534.2 L970.2 533.7 L970.3 533.1 L970.5 532.6 L970.6 532.1 L970.7 531.6 L970.8 531.1 L970.9 530.6 L971.1 530.1 L971.2 529.7 L971.3 529.2 L971.5 528.7 L971.6 528.2 L971.8 527.7 L971.9 527.2 L972.1 526.7 L972.2 526.2 L972.4 525.8 L972.5 525.3 L972.7 524.8 L972.8 524.3 L973.0 523.9 L973.2 523.4 L973.3 522.9 L973.5 522.4 L973.7 522.0 L973.9 521.5 L974.0 521.1 L974.2 520.6 L974.4 520.1 L974.6 519.7 L974.8 519.2 L975.0 518.8 L975.2 518.3 L975.4 517.9 L975.6 517.4 L975.8 517.0 L976.0 516.6 L976.2 516.1 L976.4 515.7 L976.6 515.3 L976.8 514.8 L977.0 514.4 L977.2 514.0 L977.5 513.6 L977.7 513.2 L977.9 512.8 L978.1 512.3 L978.4 511.9 L978.6 511.5 L978.8 511.1 L979.1 510.7 L979.3 510.3 L979.5 509.9 L979.8 509.6 L980.0 509.2 L980.3 508.8 L980.5 508.4 L980.8 508.0 L981.0 507.7 L981.3 507.3 L981.5 506.9 L981.8 506.6 L982.0 506.2 L982.3 505.8 L982.6 505.5 L982.8 505.1 L983.1 504.8 L983.4 504.4 L983.6 504.1 L983.9 503.8 L984.2 503.4 L984.4 503.1 L984.7 502.8 L985.0 502.5 L985.3 502.1 L985.6 501.8 L985.9 501.5 L986.1 501.2 L986.4 500.9 L986.7 500.6 L987.0 500.3 L987.3 500.0 L987.6 499.7 L987.9 499.4 L988.2 499.1 L988.5 498.9 L988.8 498.6 L989.1 498.3 L989.4 498.1 L989.7 497.8 L990.0 497.5 L990.3 497.3 L990.6 497.0 L990.9 496.8 L991.2 496.6 L991.5 496.3 L991.8 496.1 L992.1 495.9 L992.5 495.6 L992.8 495.4 L993.1 495.2 L993.4 495.0 L993.7 494.8 L994.0 494.6 L994.4 494.4 L994.7 494.2 L995.0 494.0 L995.3 493.8 L995.7 493.6 L996.0 493.4 L996.3 493.3 L996.6 493.1 L997.0 492.9 L997.3 492.8 L997.6 492.6 L997.9 492.4 L998.3 492.3 L998.6 492.2 L998.9 492.0 L999.3 491.9 L999.6 491.7 L999.9 491.6 L1000.3 491.5 L1000.6 491.4 L1000.9 491.3 L1001.3 491.2 L1001.6 491.1 L1001.9 491.0 L1002.3 490.9 L1002.6 490.8 L1003.0 490.7 L1003.3 490.6 L1003.6 490.5 L1004.0 490.5 L1004.3 490.4 L1004.6 490.3 L1005.0 490.3 L1005.3 490.2 L1005.7 490.2 L1006.0 490.1 L1006.3 490.1 L1006.7 490.0 L1007.0 490.0 L1007.3 490.0 L1007.7 490.0 L1008.0 489.9 L1008.4 489.9 L1008.7 489.9 L1009.0 489.9 L1009.4 489.9 L1009.7 489.9 L1010.1 489.9 L1010.4 490.0 L1010.7 490.0 L1011.1 490.0 L1011.4 490.0 L1011.7 490.1 L1012.1 490.1 L1012.4 490.1 L1012.7 490.2 L1013.1 490.2 L1013.4 490.3 L1013.7 490.4 L1014.1 490.4 L1014.4 490.5 L1014.7 490.6 L1271.4 547.9 L1271.7 548.0 L1271.9 548.1 L1272.2 548.1 L1272.5 548.2 L1272.8 548.3 L1273.1 548.4 L1273.4 548.5 L1273.7 548.6 L1274.0 548.7 L1274.3 548.8 L1274.6 548.9 L1274.8 549.0 L1275.1 549.1 L1275.4 549.3 L1275.7 549.4 L1276.0 549.5 L1276.2 549.6 L1276.5 549.8 L1276.8 549.9 L1277.1 550.1 L1277.4 550.2 L1277.6 550.4 L1277.9 550.5 L1278.2 550.7 L1278.4 550.8 L1278.7 551.0 L1279.0 551.2 L1279.3 551.3 L1279.5 551.5 L1279.8 551.7 L1280.0 551.9 L1280.3 552.1 L1280.6 552.3 L1280.8 552.5 L1281.1 552.7 L1281.3 552.9 L1281.6 553.1 L1281.9 553.3 L1282.1 553.5 L1282.4 553.7 L1282.6 554.0 L1282.9 554.2 L1283.1 554.4 L1283.3 554.7 L1283.6 554.9 L1283.8 555.1 L1284.1 555.4 L1284.3 555.6 L1284.5 555.9 L1284.8 556.1 L1285.0 556.4 L1285.2 556.7 L1285.5 556.9 L1285.7 557.2 L1285.9 557.5 L1286.2 557.7 L1286.4 558.0 L1286.6 558.3 L1286.8 558.6 L1287.0 558.9 L1287.2 559.2 L1287.5 559.5 L1287.7 559.8 L1287.9 560.1 L1288.1 560.4 L1288.3 560.7 L1288.5 561.0 L1288.7 561.3 L1288.9 561.6 L1289.1 561.9 L1289.3 562.3 L1289.5 562.6 L1289.7 562.9 L1289.9 563.2 L1290.1 563.6 L1290.2 563.9 L1290.4 564.3 L1290.6 564.6 L1290.8 565.0 L1291.0 565.3 L1291.1 565.7 L1291.3 566.0 L1291.5 566.4 L1291.7 566.7 L1291.8 567.1 L1292.0 567.5 L1292.1 567.8 L1292.3 568.2 L1292.5 568.6 L1292.6 568.9 L1292.8 569.3 L1292.9 569.7 L1293.1 570.1 L1293.2 570.5 L1293.4 570.9 L1293.5 571.2 L1293.6 571.6 L1293.8 572.0 L1293.9 572.4 L1294.0 572.8 L1294.2 573.2 L1294.3 573.6 L1294.4 574.0 L1294.5 574.4 L1294.7 574.8 L1294.8 575.3 L1294.9 575.7 L1295.0 576.1 L1295.1 576.5 L1295.2 576.9 L1295.3 577.3 L1295.4 577.8 L1295.5 578.2 L1295.6 578.6 L1295.7 579.0 L1295.8 579.5 L1295.9 579.9 L1296.0 580.3 L1296.1 580.8 L1296.1 581.2 L1296.2 581.7 L1296.3 582.1 L1296.4 582.5 L1296.4 583.0 L1296.5 583.4 L1296.6 583.9 L1296.6 584.3 L1296.7 584.8 L1296.8 585.2 L1296.8 585.7 L1296.9 586.1 L1296.9 586.6 L1297.0 587.0 L1297.0 587.5 L1297.1 587.9 L1297.1 588.4 L1297.1 588.8 L1297.2 589.3 L1297.2 589.8 L1297.2 590.2 L1297.3 590.7 L1297.3 591.1 L1297.3 591.6 L1297.3 592.1 L1297.3 592.5 L1297.4 593.0 L1297.4 593.5 L1297.4 593.9 L1297.4 594.4 L1297.4 594.9 L1297.4 595.3 L1297.4 595.8 L1297.4 596.3 L1297.4 596.7 L1297.4 597.2 L1297.4 597.7 L1297.3 598.2 L1297.3 598.6 L1297.3 599.1 L1297.3 599.6 L1297.3 600.0 L1297.2 600.5 L1297.2 601.0 L1297.2 601.5 L1297.1 601.9 L1297.1 602.4 L1297.0 602.9 L1297.0 603.3 L1296.9 603.8 L1296.9 604.3 L1296.8 604.7 L1296.8 605.2 L1296.7 605.7 L1296.7 606.2 L1296.6 606.6 L1296.5 607.1 L1296.5 607.6 L1296.4 608.0 L1296.3 608.5 L1296.3 609.0 L1296.2 609.4 L1296.1 609.9 L1296.0 610.4 L1295.9 610.8 L1295.8 611.3 L1295.8 611.8 L1295.7 612.2 L1295.6 612.7 L1295.5 613.1 L1295.4 613.6 L1295.3 614.1 L1295.2 614.5 L1295.0 615.0 L1294.9 615.4 L1294.8 615.9 L1294.7 616.3 L1294.6 616.8 L1294.5 617.2 L1294.3 617.7 L1294.2 618.1 L1294.1 618.6 L1294.0 619.0 L1293.8 619.5 L1293.7 619.9 L1293.6 620.4 L1293.4 620.8 L1293.3 621.2 L1293.1 621.7 L1293.0 622.1 L1292.8 622.6 L1292.7 623.0 L1292.5 623.4 L1292.4 623.8 L1292.2 624.3 L1292.0 624.7 L1291.9 625.1 L1291.7 625.5 L1291.6 626.0 L1291.4 626.4 L1291.2 626.8 L1291.0 627.2 L1290.9 627.6 L1290.7 628.0 L1290.5 628.5 L1290.3 628.9 L1290.1 629.3 L1290.0 629.7 L1289.8 630.1 L1289.6 630.5 L1289.4 630.9 L1289.2 631.3 L1289.0 631.6 L1288.8 632.0 L1288.6 632.4 L1288.4 632.8 L1288.2 633.2 L1288.0 633.6 L1287.8 633.9 L1287.6 634.3 L1287.3 634.7 L1287.1 635.1 L1286.9 635.4 L1286.7 635.8 L1286.5 636.2 L1286.2 636.5 L1286.0 636.9 L1285.8 637.2 L1285.6 637.6 L1285.3 637.9 L1285.1 638.3 L1284.9 638.6 L1284.6 639.0 L1284.4 639.3 L1284.2 639.6 L1283.9 640.0 L1283.7 640.3 L1283.4 640.6 L1283.2 640.9 L1283.0 641.3 L1282.7 641.6 L1282.5 641.9 L1282.2 642.2 L1282.0 642.5 L1281.7 642.8 L1281.5 643.1 L1281.2 643.4 L1280.9 643.7 L1280.7 644.0 L1280.4 644.3 L1280.2 644.6 L1279.9 644.9 L1279.6 645.1 L1279.4 645.4 L1279.1 645.7 L1278.8 645.9 L1278.6 646.2 L1278.3 646.5 L1278.0 646.7 L1277.7 647.0 L1277.5 647.2 L1277.2 647.5 L1276.9 647.7 L1276.6 648.0 L1276.4 648.2 L1276.1 648.4 L1275.8 648.7 L1275.5 648.9 L1275.2 649.1 L1275.0 649.3 L1274.7 649.6 L1274.4 649.8 L1274.1 650.0 L1273.8 650.2 L1273.5 650.4 L1273.2 650.6 L1272.9 650.8 L1272.7 651.0 L1272.4 651.1 L1272.1 651.3 L1271.8 651.5 L1271.5 651.7 L1271.2 651.8 L1270.9 652.0 L1270.6 652.2 L1270.3 652.3 L1270.0 652.5 L1269.7 652.6 L1269.4 652.8 L1269.1 652.9 L1268.8 653.1 L1268.5 653.2 L1268.2 653.3 L1267.9 653.5 L1267.6 653.6 L1267.3 653.7 L1267.0 653.8 L1266.7 653.9 L1266.4 654.0 L1266.1 654.2 L1265.8 654.3 L1265.5 654.3 L1265.2 654.4 L1264.9 654.5 L1264.6 654.6 L1264.3 654.7 L1264.0 654.8 L1263.7 654.8 L1263.4 654.9 L1263.1 655.0 L1262.8 655.0 L1262.5 655.1 L1262.2 655.1 L1261.9 655.2 L1261.6 655.2 L1261.2 655.3 L1260.9 655.3 L1260.6 655.3 L1260.3 655.4 L1260.0 655.4 L1259.7 655.4 L1259.4 655.4 L1259.1 655.4 L1258.8 655.4 L1258.5 655.4 L1258.2 655.4 L1257.9 655.4 L1257.6 655.4 L1257.3 655.4 L1257.0 655.4 L1256.7 655.3 L1256.4 655.3 L1256.1 655.3 L1255.8 655.3 L1255.5 655.2 L1255.2 655.2 L1254.9 655.1 Z"/></clipPath><clipPath id="cf2"><ellipse cx="1006.1" cy="553.1" rx="78.2" ry="119.4" transform="rotate(10.96 1006.1 553.1)"/></clipPath><linearGradient id="gj" gradientUnits="userSpaceOnUse" x1="350.0" y1="244.5" x2="285.8" y2="601.0"><stop offset="0.000" stop-color="#3e4a52"/><stop offset="0.120" stop-color="#4a565d"/><stop offset="0.310" stop-color="#5a666d"/><stop offset="0.460" stop-color="#48535b"/><stop offset="0.600" stop-color="#3b464e"/><stop offset="0.760" stop-color="#323d45"/><stop offset="0.900" stop-color="#2c373e"/><stop offset="1.000" stop-color="#313c44"/></linearGradient><linearGradient id="gt" gradientUnits="userSpaceOnUse" x1="640.0" y1="330.0" x2="581.3" y2="638.9"><stop offset="0.000" stop-color="#6ac5b9"/><stop offset="0.300" stop-color="#73c9be"/><stop offset="0.700" stop-color="#66c0b4"/><stop offset="1.000" stop-color="#62bdb1"/></linearGradient><filter id="blur6" x="-20%" y="-50%" width="140%" height="200%"><feGaussianBlur stdDeviation="4"/></filter><filter id="blur10" x="-20%" y="-50%" width="140%" height="200%"><feGaussianBlur stdDeviation="9"/></filter></defs><g filter="url(#blur6)" fill="#edebe1"><path d="M127 586 L700 680 L1015 676 L1086 697 L960 735 L1000 782 L800 754 L700 732 L139 612 Z"/></g><g filter="url(#blur10)" fill="#eae8dd"><path d="M940 728 L1287 760 L1270 806 L990 778 Z"/></g><path d="M215.9 219.0 L651.4 294.7 L652.6 294.9 L653.7 295.1 L654.8 295.3 L655.9 295.6 L657.0 295.8 L658.1 296.1 L659.2 296.4 L660.2 296.7 L661.3 297.0 L662.4 297.3 L663.5 297.7 L664.6 298.0 L665.6 298.4 L666.7 298.8 L667.8 299.2 L668.8 299.6 L669.9 300.0 L670.9 300.5 L672.0 300.9 L673.0 301.4 L674.1 301.9 L675.1 302.3 L676.2 302.9 L677.2 303.4 L678.2 303.9 L679.2 304.5 L680.2 305.0 L681.3 305.6 L682.3 306.2 L683.3 306.8 L684.3 307.4 L685.3 308.0 L686.2 308.7 L687.2 309.3 L688.2 310.0 L689.2 310.7 L690.1 311.4 L691.1 312.1 L692.0 312.8 L693.0 313.5 L693.9 314.3 L694.9 315.0 L695.8 315.8 L696.7 316.6 L697.7 317.4 L698.6 318.2 L699.5 319.0 L700.4 319.8 L701.3 320.7 L702.2 321.5 L703.1 322.4 L703.9 323.3 L704.8 324.2 L705.7 325.1 L706.5 326.0 L707.4 326.9 L708.2 327.9 L709.0 328.8 L709.9 329.8 L710.7 330.7 L711.5 331.7 L712.3 332.7 L713.1 333.7 L713.9 334.8 L714.7 335.8 L715.5 336.8 L716.3 337.9 L717.0 338.9 L717.8 340.0 L718.5 341.1 L719.3 342.2 L720.0 343.3 L720.7 344.4 L721.5 345.6 L722.2 346.7 L722.9 347.8 L723.6 349.0 L724.3 350.2 L724.9 351.3 L725.6 352.5 L726.3 353.7 L726.9 354.9 L727.6 356.2 L728.2 357.4 L728.9 358.6 L729.5 359.9 L730.1 361.1 L730.7 362.4 L731.3 363.7 L731.9 364.9 L732.5 366.2 L733.0 367.5 L733.6 368.8 L734.1 370.2 L734.7 371.5 L735.2 372.8 L735.8 374.2 L736.3 375.5 L736.8 376.9 L737.3 378.2 L737.8 379.6 L738.3 381.0 L738.7 382.4 L739.2 383.8 L739.7 385.2 L740.1 386.6 L740.5 388.0 L741.0 389.4 L741.4 390.9 L741.8 392.3 L742.2 393.7 L742.6 395.2 L743.0 396.7 L743.3 398.1 L743.7 399.6 L744.0 401.1 L744.4 402.6 L744.7 404.0 L745.0 405.5 L745.4 407.0 L745.7 408.5 L746.0 410.1 L746.2 411.6 L746.5 413.1 L746.8 414.6 L747.0 416.2 L747.3 417.7 L747.5 419.2 L747.8 420.8 L748.0 422.3 L748.2 423.9 L748.4 425.5 L748.6 427.0 L748.7 428.6 L748.9 430.2 L749.1 431.8 L749.2 433.3 L749.4 434.9 L749.5 436.5 L749.6 438.1 L749.7 439.7 L749.8 441.3 L749.9 442.9 L750.0 444.5 L750.0 446.1 L750.1 447.7 L750.1 449.3 L750.2 450.9 L750.2 452.6 L750.2 454.2 L750.2 455.8 L750.2 457.4 L750.2 459.0 L750.2 460.7 L750.2 462.3 L750.1 463.9 L750.1 465.6 L750.0 467.2 L749.9 468.8 L749.9 470.5 L749.8 472.1 L749.7 473.7 L749.6 475.4 L749.4 477.0 L749.3 478.6 L749.2 480.3 L749.0 481.9 L748.8 483.5 L748.7 485.2 L748.5 486.8 L748.3 488.5 L748.1 490.1 L747.9 491.7 L747.7 493.4 L747.4 495.0 L747.2 496.6 L747.0 498.3 L746.7 499.9 L746.4 501.5 L746.1 503.1 L745.9 504.8 L745.6 506.4 L745.3 508.0 L744.9 509.6 L744.6 511.2 L744.3 512.9 L743.9 514.5 L743.6 516.1 L743.2 517.7 L742.8 519.3 L742.4 520.9 L742.1 522.5 L741.6 524.1 L741.2 525.7 L740.8 527.3 L740.4 528.8 L739.9 530.4 L739.5 532.0 L739.0 533.6 L738.6 535.1 L738.1 536.7 L737.6 538.3 L737.1 539.8 L736.6 541.4 L736.1 542.9 L735.6 544.5 L735.0 546.0 L734.5 547.5 L734.0 549.1 L733.4 550.6 L732.8 552.1 L732.3 553.6 L731.7 555.1 L731.1 556.6 L730.5 558.1 L729.9 559.6 L729.3 561.1 L728.6 562.6 L728.0 564.0 L727.4 565.5 L726.7 566.9 L726.0 568.4 L725.4 569.8 L724.7 571.3 L724.0 572.7 L723.3 574.1 L722.6 575.6 L721.9 577.0 L721.2 578.4 L720.5 579.8 L719.8 581.1 L719.0 582.5 L718.3 583.9 L717.5 585.3 L716.8 586.6 L716.0 588.0 L715.2 589.3 L714.4 590.6 L713.6 592.0 L712.8 593.3 L712.0 594.6 L711.2 595.9 L710.4 597.2 L709.6 598.4 L708.7 599.7 L707.9 601.0 L707.1 602.2 L706.2 603.5 L705.4 604.7 L704.5 605.9 L703.6 607.2 L702.7 608.4 L701.8 609.6 L701.0 610.7 L700.1 611.9 L699.2 613.1 L698.2 614.2 L697.3 615.4 L696.4 616.5 L695.5 617.6 L694.5 618.8 L693.6 619.9 L692.7 621.0 L691.7 622.0 L690.8 623.1 L689.8 624.2 L688.8 625.2 L687.8 626.3 L686.9 627.3 L685.9 628.3 L684.9 629.3 L683.9 630.3 L682.9 631.3 L681.9 632.3 L680.9 633.2 L679.9 634.2 L678.9 635.1 L677.8 636.0 L676.8 637.0 L675.8 637.9 L674.8 638.8 L673.7 639.6 L672.7 640.5 L671.6 641.4 L670.6 642.2 L669.5 643.0 L668.5 643.8 L667.4 644.6 L666.3 645.4 L665.3 646.2 L664.2 647.0 L663.1 647.7 L662.0 648.5 L660.9 649.2 L659.9 649.9 L658.8 650.6 L657.7 651.3 L656.6 652.0 L655.5 652.7 L654.4 653.3 L653.3 653.9 L652.2 654.6 L651.0 655.2 L649.9 655.8 L648.8 656.4 L647.7 656.9 L646.6 657.5 L645.5 658.0 L644.3 658.6 L643.2 659.1 L642.1 659.6 L641.0 660.1 L639.8 660.6 L638.7 661.0 L637.6 661.5 L636.4 661.9 L635.3 662.3 L634.2 662.7 L633.0 663.1 L631.9 663.5 L630.7 663.9 L629.6 664.2 L628.5 664.6 L627.3 664.9 L626.2 665.2 L625.0 665.5 L623.9 665.8 L622.7 666.1 L621.6 666.3 L620.4 666.6 L619.3 666.8 L618.1 667.0 L617.0 667.2 L615.9 667.4 L614.7 667.5 L613.6 667.7 L612.4 667.8 L611.3 668.0 L610.1 668.1 L609.0 668.2 L607.8 668.3 L606.7 668.3 L605.6 668.4 L604.4 668.4 L603.3 668.5 L602.1 668.5 L601.0 668.5 L599.9 668.5 L598.7 668.4 L597.6 668.4 L596.5 668.3 L595.4 668.2 L594.2 668.2 L593.1 668.1 L592.0 667.9 L590.9 667.8 L589.7 667.7 L588.6 667.5 L587.5 667.3 L586.4 667.2 L585.3 667.0 L584.2 666.7 L583.1 666.5 L157.5 577.4 L156.5 577.2 L155.5 577.0 L154.6 576.8 L153.6 576.5 L152.6 576.3 L151.6 576.0 L150.7 575.7 L149.7 575.4 L148.8 575.1 L147.8 574.8 L146.8 574.4 L145.9 574.1 L144.9 573.7 L144.0 573.3 L143.0 572.9 L142.1 572.5 L141.2 572.1 L140.2 571.6 L139.3 571.2 L138.4 570.7 L137.5 570.3 L136.5 569.8 L135.6 569.3 L134.7 568.8 L133.8 568.2 L132.9 567.7 L132.0 567.1 L131.1 566.6 L130.2 566.0 L129.4 565.4 L128.5 564.8 L127.6 564.2 L126.7 563.6 L125.9 562.9 L125.0 562.3 L124.1 561.6 L123.3 560.9 L122.4 560.2 L121.6 559.5 L120.8 558.8 L119.9 558.1 L119.1 557.3 L118.3 556.6 L117.5 555.8 L116.7 555.0 L115.9 554.3 L115.1 553.5 L114.3 552.6 L113.5 551.8 L112.7 551.0 L111.9 550.1 L111.1 549.3 L110.4 548.4 L109.6 547.5 L108.9 546.6 L108.1 545.7 L107.4 544.8 L106.6 543.9 L105.9 543.0 L105.2 542.0 L104.5 541.0 L103.8 540.1 L103.0 539.1 L102.3 538.1 L101.7 537.1 L101.0 536.1 L100.3 535.1 L99.6 534.0 L99.0 533.0 L98.3 531.9 L97.6 530.9 L97.0 529.8 L96.4 528.7 L95.7 527.6 L95.1 526.5 L94.5 525.4 L93.9 524.3 L93.3 523.1 L92.7 522.0 L92.1 520.8 L91.5 519.7 L90.9 518.5 L90.4 517.3 L89.8 516.1 L89.3 514.9 L88.7 513.7 L88.2 512.5 L87.7 511.3 L87.1 510.1 L86.6 508.8 L86.1 507.6 L85.6 506.3 L85.1 505.0 L84.7 503.8 L84.2 502.5 L83.7 501.2 L83.3 499.9 L82.8 498.6 L82.4 497.3 L81.9 496.0 L81.5 494.6 L81.1 493.3 L80.7 492.0 L80.3 490.6 L79.9 489.2 L79.5 487.9 L79.1 486.5 L78.7 485.1 L78.4 483.7 L78.0 482.4 L77.7 481.0 L77.3 479.6 L77.0 478.1 L76.7 476.7 L76.4 475.3 L76.1 473.9 L75.8 472.4 L75.5 471.0 L75.2 469.6 L75.0 468.1 L74.7 466.7 L74.5 465.2 L74.2 463.7 L74.0 462.3 L73.8 460.8 L73.5 459.3 L73.3 457.8 L73.1 456.3 L72.9 454.8 L72.8 453.3 L72.6 451.8 L72.4 450.3 L72.3 448.8 L72.1 447.3 L72.0 445.8 L71.9 444.3 L71.7 442.7 L71.6 441.2 L71.5 439.7 L71.4 438.2 L71.3 436.6 L71.3 435.1 L71.2 433.5 L71.1 432.0 L71.1 430.4 L71.1 428.9 L71.0 427.3 L71.0 425.8 L71.0 424.2 L71.0 422.7 L71.0 421.1 L71.0 419.5 L71.0 418.0 L71.1 416.4 L71.1 414.8 L71.1 413.3 L71.2 411.7 L71.3 410.1 L71.3 408.6 L71.4 407.0 L71.5 405.4 L71.6 403.8 L71.7 402.3 L71.9 400.7 L72.0 399.1 L72.1 397.5 L72.3 396.0 L72.4 394.4 L72.6 392.8 L72.8 391.2 L72.9 389.7 L73.1 388.1 L73.3 386.5 L73.5 384.9 L73.7 383.4 L74.0 381.8 L74.2 380.2 L74.4 378.7 L74.7 377.1 L75.0 375.5 L75.2 374.0 L75.5 372.4 L75.8 370.9 L76.1 369.3 L76.4 367.8 L76.7 366.2 L77.0 364.7 L77.3 363.1 L77.7 361.6 L78.0 360.0 L78.4 358.5 L78.7 357.0 L79.1 355.4 L79.5 353.9 L79.9 352.4 L80.3 350.9 L80.7 349.3 L81.1 347.8 L81.5 346.3 L81.9 344.8 L82.3 343.3 L82.8 341.8 L83.2 340.3 L83.7 338.8 L84.2 337.3 L84.6 335.9 L85.1 334.4 L85.6 332.9 L86.1 331.5 L86.6 330.0 L87.1 328.5 L87.6 327.1 L88.2 325.6 L88.7 324.2 L89.3 322.8 L89.8 321.3 L90.4 319.9 L90.9 318.5 L91.5 317.1 L92.1 315.7 L92.7 314.3 L93.3 312.9 L93.9 311.5 L94.5 310.1 L95.1 308.8 L95.7 307.4 L96.3 306.1 L97.0 304.7 L97.6 303.4 L98.3 302.0 L98.9 300.7 L99.6 299.4 L100.3 298.1 L100.9 296.8 L101.6 295.5 L102.3 294.2 L103.0 292.9 L103.7 291.6 L104.4 290.4 L105.2 289.1 L105.9 287.9 L106.6 286.6 L107.3 285.4 L108.1 284.2 L108.8 282.9 L109.6 281.7 L110.3 280.5 L111.1 279.3 L111.9 278.2 L112.7 277.0 L113.4 275.8 L114.2 274.7 L115.0 273.5 L115.8 272.4 L116.6 271.3 L117.4 270.2 L118.3 269.1 L119.1 268.0 L119.9 266.9 L120.7 265.8 L121.6 264.8 L122.4 263.7 L123.3 262.7 L124.1 261.6 L125.0 260.6 L125.8 259.6 L126.7 258.6 L127.6 257.6 L128.4 256.6 L129.3 255.7 L130.2 254.7 L131.1 253.8 L132.0 252.8 L132.9 251.9 L133.8 251.0 L134.7 250.1 L135.6 249.2 L136.5 248.3 L137.4 247.4 L138.4 246.6 L139.3 245.7 L140.2 244.9 L141.1 244.1 L142.1 243.3 L143.0 242.5 L144.0 241.7 L144.9 240.9 L145.9 240.1 L146.8 239.4 L147.8 238.7 L148.7 237.9 L149.7 237.2 L150.6 236.5 L151.6 235.8 L152.6 235.1 L153.6 234.5 L154.5 233.8 L155.5 233.2 L156.5 232.6 L157.5 231.9 L158.5 231.3 L159.4 230.8 L160.4 230.2 L161.4 229.6 L162.4 229.1 L163.4 228.5 L164.4 228.0 L165.4 227.5 L166.4 227.0 L167.4 226.5 L168.4 226.0 L169.4 225.6 L170.4 225.1 L171.4 224.7 L172.4 224.3 L173.5 223.9 L174.5 223.5 L175.5 223.1 L176.5 222.7 L177.5 222.4 L178.5 222.0 L179.5 221.7 L180.6 221.4 L181.6 221.1 L182.6 220.8 L183.6 220.5 L184.6 220.3 L185.6 220.0 L186.7 219.8 L187.7 219.6 L188.7 219.4 L189.7 219.2 L190.7 219.0 L191.8 218.8 L192.8 218.7 L193.8 218.6 L194.8 218.4 L195.8 218.3 L196.8 218.2 L197.9 218.1 L198.9 218.1 L199.9 218.0 L200.9 218.0 L201.9 218.0 L202.9 217.9 L203.9 217.9 L204.9 218.0 L205.9 218.0 L206.9 218.0 L207.9 218.1 L208.9 218.2 L209.9 218.2 L210.9 218.3 L211.9 218.4 L212.9 218.6 L213.9 218.7 L214.9 218.9 Z" fill="url(#gj)" stroke="#182126" stroke-width="4.0" stroke-linejoin="round"/><ellipse cx="618.9" cy="480.9" rx="129.1" ry="189.1" transform="rotate(9.91 618.9 480.9)" fill="#2d3840" stroke="#182126" stroke-width="4.0"/><path d="M600.5 634.2 L599.5 634.0 L598.6 633.8 L597.7 633.6 L596.8 633.4 L595.9 633.2 L595.0 632.9 L594.1 632.7 L593.2 632.4 L592.3 632.1 L591.4 631.8 L590.5 631.6 L589.6 631.2 L588.7 630.9 L587.8 630.6 L587.0 630.2 L586.1 629.9 L585.2 629.5 L584.3 629.1 L583.5 628.7 L582.6 628.3 L581.7 627.9 L580.9 627.5 L580.0 627.1 L579.2 626.6 L578.3 626.2 L577.5 625.7 L576.6 625.2 L575.8 624.7 L575.0 624.2 L574.1 623.7 L573.3 623.2 L572.5 622.7 L571.7 622.1 L570.9 621.6 L570.0 621.0 L569.2 620.4 L568.4 619.8 L567.6 619.2 L566.8 618.6 L566.1 618.0 L565.3 617.4 L564.5 616.7 L563.7 616.1 L563.0 615.4 L562.2 614.8 L561.4 614.1 L560.7 613.4 L559.9 612.7 L559.2 612.0 L558.4 611.2 L557.7 610.5 L557.0 609.8 L556.3 609.0 L555.5 608.3 L554.8 607.5 L554.1 606.7 L553.4 605.9 L552.7 605.1 L552.0 604.3 L551.3 603.5 L550.7 602.7 L550.0 601.8 L549.3 601.0 L548.6 600.1 L548.0 599.3 L547.3 598.4 L546.7 597.5 L546.1 596.6 L545.4 595.7 L544.8 594.8 L544.2 593.9 L543.6 592.9 L543.0 592.0 L542.3 591.1 L541.8 590.1 L541.2 589.2 L540.6 588.2 L540.0 587.2 L539.4 586.2 L538.9 585.2 L538.3 584.2 L537.8 583.2 L537.2 582.2 L536.7 581.2 L536.2 580.1 L535.6 579.1 L535.1 578.1 L534.6 577.0 L534.1 575.9 L533.6 574.9 L533.1 573.8 L532.6 572.7 L532.2 571.6 L531.7 570.5 L531.2 569.4 L530.8 568.3 L530.3 567.2 L529.9 566.1 L529.5 564.9 L529.1 563.8 L528.6 562.7 L528.2 561.5 L527.8 560.4 L527.4 559.2 L527.0 558.0 L526.7 556.8 L526.3 555.7 L525.9 554.5 L525.6 553.3 L525.2 552.1 L524.9 550.9 L524.6 549.7 L524.2 548.5 L523.9 547.3 L523.6 546.0 L523.3 544.8 L523.0 543.6 L522.7 542.3 L522.4 541.1 L522.2 539.8 L521.9 538.6 L521.7 537.3 L521.4 536.1 L521.2 534.8 L520.9 533.5 L520.7 532.3 L520.5 531.0 L520.3 529.7 L520.1 528.4 L519.9 527.1 L519.7 525.8 L519.5 524.6 L519.4 523.3 L519.2 522.0 L519.1 520.7 L518.9 519.3 L518.8 518.0 L518.7 516.7 L518.6 515.4 L518.4 514.1 L518.3 512.8 L518.2 511.4 L518.2 510.1 L518.1 508.8 L518.0 507.5 L518.0 506.1 L517.9 504.8 L517.9 503.5 L517.8 502.1 L517.8 500.8 L517.8 499.4 L517.8 498.1 L517.8 496.7 L517.8 495.4 L517.8 494.1 L517.8 492.7 L517.8 491.4 L517.9 490.0 L517.9 488.7 L518.0 487.3 L518.0 486.0 L518.1 484.6 L518.2 483.3 L518.3 481.9 L518.4 480.5 L518.5 479.2 L518.6 477.8 L518.7 476.5 L518.8 475.1 L519.0 473.8 L519.1 472.4 L519.3 471.1 L519.4 469.7 L519.6 468.4 L519.8 467.0 L520.0 465.7 L520.2 464.4 L520.4 463.0 L520.6 461.7 L520.8 460.3 L521.0 459.0 L521.2 457.6 L521.5 456.3 L521.7 455.0 L522.0 453.6 L522.3 452.3 L522.5 451.0 L522.8 449.7 L523.1 448.3 L523.4 447.0 L523.7 445.7 L524.0 444.4 L524.3 443.1 L524.7 441.8 L525.0 440.5 L525.3 439.1 L525.7 437.8 L526.1 436.5 L526.4 435.3 L526.8 434.0 L527.2 432.7 L527.6 431.4 L528.0 430.1 L528.4 428.8 L528.8 427.6 L529.2 426.3 L529.6 425.0 L530.1 423.8 L530.5 422.5 L530.9 421.3 L531.4 420.0 L531.9 418.8 L532.3 417.5 L532.8 416.3 L533.3 415.1 L533.8 413.9 L534.3 412.6 L534.8 411.4 L535.3 410.2 L535.8 409.0 L536.3 407.8 L536.9 406.6 L537.4 405.4 L537.9 404.3 L538.5 403.1 L539.1 401.9 L539.6 400.8 L540.2 399.6 L540.8 398.5 L541.4 397.3 L542.0 396.2 L542.5 395.0 L543.2 393.9 L543.8 392.8 L544.4 391.7 L545.0 390.6 L545.6 389.5 L546.3 388.4 L546.9 387.3 L547.6 386.2 L548.2 385.2 L548.9 384.1 L549.5 383.1 L550.2 382.0 L550.9 381.0 L551.6 379.9 L552.3 378.9 L552.9 377.9 L553.6 376.9 L554.3 375.9 L555.1 374.9 L555.8 373.9 L556.5 372.9 L557.2 372.0 L558.0 371.0 L558.7 370.1 L559.4 369.1 L560.2 368.2 L560.9 367.3 L561.7 366.3 L562.4 365.4 L563.2 364.5 L564.0 363.6 L564.8 362.8 L565.5 361.9 L566.3 361.0 L567.1 360.2 L567.9 359.3 L568.7 358.5 L569.5 357.7 L570.3 356.8 L571.1 356.0 L571.9 355.2 L572.8 354.4 L573.6 353.7 L574.4 352.9 L575.2 352.1 L576.1 351.4 L576.9 350.6 L577.8 349.9 L578.6 349.2 L579.5 348.5 L580.3 347.8 L581.2 347.1 L582.0 346.4 L582.9 345.7 L583.8 345.1 L584.6 344.4 L585.5 343.8 L586.4 343.1 L587.3 342.5 L588.1 341.9 L589.0 341.3 L589.9 340.7 L590.8 340.2 L591.7 339.6 L592.6 339.0 L593.5 338.5 L594.4 338.0 L595.3 337.4 L596.2 336.9 L597.1 336.4 L598.0 335.9 L598.9 335.5 L599.9 335.0 L600.8 334.5 L601.7 334.1 L602.6 333.7 L603.5 333.2 L604.5 332.8 L605.4 332.4 L606.3 332.0 L607.2 331.7 L608.2 331.3 L609.1 330.9 L610.0 330.6 L611.0 330.3 L611.9 329.9 L612.8 329.6 L613.8 329.3 L614.7 329.0 L615.6 328.8 L616.6 328.5 L617.5 328.3 L618.5 328.0 L619.4 327.8 L620.3 327.6 L621.3 327.4 L622.2 327.2 L623.2 327.0 L624.1 326.8 L625.1 326.7 L626.0 326.5 L626.9 326.4 L627.9 326.3 L628.8 326.1 L629.8 326.0 L630.7 326.0 L631.7 325.9 L632.6 325.8 L633.5 325.8 L634.5 325.7 L635.4 325.7 L636.4 325.7 L637.3 325.7 L638.2 325.7 L639.2 325.7 L640.1 325.7 L641.0 325.8 L642.0 325.8 L642.9 325.9 L643.8 326.0 L644.8 326.0 L645.7 326.1 L646.6 326.3 L647.5 326.4 L648.5 326.5 L649.4 326.7 L650.3 326.8 L651.2 327.0 L859.5 366.8 L860.4 367.0 L861.3 367.2 L862.2 367.4 L863.1 367.6 L863.9 367.8 L864.8 368.1 L865.7 368.3 L866.6 368.6 L867.5 368.9 L868.3 369.1 L869.2 369.4 L870.1 369.7 L870.9 370.0 L871.8 370.4 L872.7 370.7 L873.5 371.1 L874.4 371.4 L875.2 371.8 L876.1 372.2 L876.9 372.6 L877.7 373.0 L878.6 373.4 L879.4 373.8 L880.2 374.3 L881.0 374.7 L881.9 375.2 L882.7 375.6 L883.5 376.1 L884.3 376.6 L885.1 377.1 L885.9 377.6 L886.7 378.2 L887.5 378.7 L888.3 379.3 L889.1 379.8 L889.8 380.4 L890.6 381.0 L891.4 381.6 L892.1 382.2 L892.9 382.8 L893.6 383.4 L894.4 384.0 L895.1 384.7 L895.9 385.3 L896.6 386.0 L897.3 386.7 L898.1 387.3 L898.8 388.0 L899.5 388.7 L900.2 389.5 L900.9 390.2 L901.6 390.9 L902.3 391.7 L903.0 392.4 L903.7 393.2 L904.3 393.9 L905.0 394.7 L905.7 395.5 L906.3 396.3 L907.0 397.1 L907.6 398.0 L908.3 398.8 L908.9 399.6 L909.5 400.5 L910.2 401.3 L910.8 402.2 L911.4 403.1 L912.0 403.9 L912.6 404.8 L913.2 405.7 L913.8 406.6 L914.4 407.6 L914.9 408.5 L915.5 409.4 L916.1 410.4 L916.6 411.3 L917.2 412.3 L917.7 413.3 L918.2 414.2 L918.8 415.2 L919.3 416.2 L919.8 417.2 L920.3 418.2 L920.8 419.2 L921.3 420.3 L921.8 421.3 L922.3 422.3 L922.7 423.4 L923.2 424.4 L923.6 425.5 L924.1 426.6 L924.5 427.6 L925.0 428.7 L925.4 429.8 L925.8 430.9 L926.2 432.0 L926.7 433.1 L927.1 434.2 L927.4 435.3 L927.8 436.5 L928.2 437.6 L928.6 438.7 L928.9 439.9 L929.3 441.0 L929.6 442.2 L930.0 443.4 L930.3 444.5 L930.6 445.7 L931.0 446.9 L931.3 448.1 L931.6 449.3 L931.9 450.5 L932.2 451.7 L932.4 452.9 L932.7 454.1 L933.0 455.3 L933.2 456.5 L933.5 457.8 L933.7 459.0 L933.9 460.3 L934.2 461.5 L934.4 462.7 L934.6 464.0 L934.8 465.2 L935.0 466.5 L935.2 467.8 L935.3 469.0 L935.5 470.3 L935.7 471.6 L935.8 472.9 L936.0 474.1 L936.1 475.4 L936.2 476.7 L936.4 478.0 L936.5 479.3 L936.6 480.6 L936.7 481.9 L936.8 483.2 L936.8 484.5 L936.9 485.8 L937.0 487.2 L937.0 488.5 L937.1 489.8 L937.1 491.1 L937.1 492.4 L937.2 493.8 L937.2 495.1 L937.2 496.4 L937.2 497.7 L937.2 499.1 L937.2 500.4 L937.1 501.7 L937.1 503.1 L937.1 504.4 L937.0 505.7 L937.0 507.1 L936.9 508.4 L936.8 509.8 L936.7 511.1 L936.6 512.5 L936.5 513.8 L936.4 515.1 L936.3 516.5 L936.2 517.8 L936.1 519.2 L935.9 520.5 L935.8 521.9 L935.6 523.2 L935.5 524.5 L935.3 525.9 L935.1 527.2 L934.9 528.6 L934.7 529.9 L934.5 531.3 L934.3 532.6 L934.1 533.9 L933.9 535.3 L933.6 536.6 L933.4 538.0 L933.1 539.3 L932.9 540.6 L932.6 541.9 L932.3 543.3 L932.0 544.6 L931.8 545.9 L931.5 547.3 L931.2 548.6 L930.8 549.9 L930.5 551.2 L930.2 552.5 L929.9 553.8 L929.5 555.2 L929.2 556.5 L928.8 557.8 L928.4 559.1 L928.1 560.4 L927.7 561.7 L927.3 562.9 L926.9 564.2 L926.5 565.5 L926.1 566.8 L925.7 568.1 L925.2 569.4 L924.8 570.6 L924.4 571.9 L923.9 573.2 L923.5 574.4 L923.0 575.7 L922.5 576.9 L922.1 578.2 L921.6 579.4 L921.1 580.6 L920.6 581.9 L920.1 583.1 L919.6 584.3 L919.1 585.5 L918.6 586.8 L918.0 588.0 L917.5 589.2 L916.9 590.4 L916.4 591.6 L915.8 592.7 L915.3 593.9 L914.7 595.1 L914.1 596.3 L913.6 597.4 L913.0 598.6 L912.4 599.7 L911.8 600.9 L911.2 602.0 L910.6 603.2 L909.9 604.3 L909.3 605.4 L908.7 606.5 L908.0 607.6 L907.4 608.7 L906.7 609.8 L906.1 610.9 L905.4 612.0 L904.8 613.1 L904.1 614.1 L903.4 615.2 L902.7 616.2 L902.0 617.3 L901.3 618.3 L900.6 619.3 L899.9 620.4 L899.2 621.4 L898.5 622.4 L897.8 623.4 L897.1 624.4 L896.3 625.4 L895.6 626.3 L894.9 627.3 L894.1 628.3 L893.4 629.2 L892.6 630.1 L891.9 631.1 L891.1 632.0 L890.3 632.9 L889.5 633.8 L888.8 634.7 L888.0 635.6 L887.2 636.5 L886.4 637.4 L885.6 638.2 L884.8 639.1 L884.0 639.9 L883.2 640.8 L882.4 641.6 L881.6 642.4 L880.7 643.2 L879.9 644.0 L879.1 644.8 L878.3 645.6 L877.4 646.3 L876.6 647.1 L875.7 647.9 L874.9 648.6 L874.0 649.3 L873.2 650.1 L872.3 650.8 L871.5 651.5 L870.6 652.2 L869.7 652.8 L868.9 653.5 L868.0 654.2 L867.1 654.8 L866.3 655.5 L865.4 656.1 L864.5 656.7 L863.6 657.3 L862.7 657.9 L861.8 658.5 L860.9 659.1 L860.0 659.6 L859.1 660.2 L858.3 660.7 L857.3 661.3 L856.4 661.8 L855.5 662.3 L854.6 662.8 L853.7 663.3 L852.8 663.8 L851.9 664.3 L851.0 664.7 L850.1 665.2 L849.2 665.6 L848.2 666.0 L847.3 666.4 L846.4 666.8 L845.5 667.2 L844.5 667.6 L843.6 668.0 L842.7 668.3 L841.8 668.7 L840.8 669.0 L839.9 669.3 L839.0 669.7 L838.1 670.0 L837.1 670.2 L836.2 670.5 L835.3 670.8 L834.3 671.0 L833.4 671.3 L832.5 671.5 L831.5 671.7 L830.6 672.0 L829.7 672.1 L828.7 672.3 L827.8 672.5 L826.9 672.7 L825.9 672.8 L825.0 673.0 L824.1 673.1 L823.1 673.2 L822.2 673.3 L821.3 673.4 L820.3 673.5 L819.4 673.5 L818.5 673.6 L817.6 673.6 L816.6 673.7 L815.7 673.7 L814.8 673.7 L813.9 673.7 L812.9 673.7 L812.0 673.7 L811.1 673.6 L810.2 673.6 L809.3 673.5 L808.4 673.5 L807.5 673.4 L806.5 673.3 L805.6 673.2 L804.7 673.1 L803.8 672.9 L802.9 672.8 L802.0 672.6 L801.1 672.5 Z" fill="url(#gt)"/><g clip-path="url(#ct)"><path d="M0 259.4 L1536 551.2 L1536 584.0 L0 307.5 Z" fill="#a6dfd5"/><path d="M0 467.0 L1536 728.1 L1536 774.9 L0 513.8 Z" fill="#4aa79a"/></g><path d="M600.5 634.2 L599.5 634.0 L598.6 633.8 L597.7 633.6 L596.8 633.4 L595.9 633.2 L595.0 632.9 L594.1 632.7 L593.2 632.4 L592.3 632.1 L591.4 631.8 L590.5 631.6 L589.6 631.2 L588.7 630.9 L587.8 630.6 L587.0 630.2 L586.1 629.9 L585.2 629.5 L584.3 629.1 L583.5 628.7 L582.6 628.3 L581.7 627.9 L580.9 627.5 L580.0 627.1 L579.2 626.6 L578.3 626.2 L577.5 625.7 L576.6 625.2 L575.8 624.7 L575.0 624.2 L574.1 623.7 L573.3 623.2 L572.5 622.7 L571.7 622.1 L570.9 621.6 L570.0 621.0 L569.2 620.4 L568.4 619.8 L567.6 619.2 L566.8 618.6 L566.1 618.0 L565.3 617.4 L564.5 616.7 L563.7 616.1 L563.0 615.4 L562.2 614.8 L561.4 614.1 L560.7 613.4 L559.9 612.7 L559.2 612.0 L558.4 611.2 L557.7 610.5 L557.0 609.8 L556.3 609.0 L555.5 608.3 L554.8 607.5 L554.1 606.7 L553.4 605.9 L552.7 605.1 L552.0 604.3 L551.3 603.5 L550.7 602.7 L550.0 601.8 L549.3 601.0 L548.6 600.1 L548.0 599.3 L547.3 598.4 L546.7 597.5 L546.1 596.6 L545.4 595.7 L544.8 594.8 L544.2 593.9 L543.6 592.9 L543.0 592.0 L542.3 591.1 L541.8 590.1 L541.2 589.2 L540.6 588.2 L540.0 587.2 L539.4 586.2 L538.9 585.2 L538.3 584.2 L537.8 583.2 L537.2 582.2 L536.7 581.2 L536.2 580.1 L535.6 579.1 L535.1 578.1 L534.6 577.0 L534.1 575.9 L533.6 574.9 L533.1 573.8 L532.6 572.7 L532.2 571.6 L531.7 570.5 L531.2 569.4 L530.8 568.3 L530.3 567.2 L529.9 566.1 L529.5 564.9 L529.1 563.8 L528.6 562.7 L528.2 561.5 L527.8 560.4 L527.4 559.2 L527.0 558.0 L526.7 556.8 L526.3 555.7 L525.9 554.5 L525.6 553.3 L525.2 552.1 L524.9 550.9 L524.6 549.7 L524.2 548.5 L523.9 547.3 L523.6 546.0 L523.3 544.8 L523.0 543.6 L522.7 542.3 L522.4 541.1 L522.2 539.8 L521.9 538.6 L521.7 537.3 L521.4 536.1 L521.2 534.8 L520.9 533.5 L520.7 532.3 L520.5 531.0 L520.3 529.7 L520.1 528.4 L519.9 527.1 L519.7 525.8 L519.5 524.6 L519.4 523.3 L519.2 522.0 L519.1 520.7 L518.9 519.3 L518.8 518.0 L518.7 516.7 L518.6 515.4 L518.4 514.1 L518.3 512.8 L518.2 511.4 L518.2 510.1 L518.1 508.8 L518.0 507.5 L518.0 506.1 L517.9 504.8 L517.9 503.5 L517.8 502.1 L517.8 500.8 L517.8 499.4 L517.8 498.1 L517.8 496.7 L517.8 495.4 L517.8 494.1 L517.8 492.7 L517.8 491.4 L517.9 490.0 L517.9 488.7 L518.0 487.3 L518.0 486.0 L518.1 484.6 L518.2 483.3 L518.3 481.9 L518.4 480.5 L518.5 479.2 L518.6 477.8 L518.7 476.5 L518.8 475.1 L519.0 473.8 L519.1 472.4 L519.3 471.1 L519.4 469.7 L519.6 468.4 L519.8 467.0 L520.0 465.7 L520.2 464.4 L520.4 463.0 L520.6 461.7 L520.8 460.3 L521.0 459.0 L521.2 457.6 L521.5 456.3 L521.7 455.0 L522.0 453.6 L522.3 452.3 L522.5 451.0 L522.8 449.7 L523.1 448.3 L523.4 447.0 L523.7 445.7 L524.0 444.4 L524.3 443.1 L524.7 441.8 L525.0 440.5 L525.3 439.1 L525.7 437.8 L526.1 436.5 L526.4 435.3 L526.8 434.0 L527.2 432.7 L527.6 431.4 L528.0 430.1 L528.4 428.8 L528.8 427.6 L529.2 426.3 L529.6 425.0 L530.1 423.8 L530.5 422.5 L530.9 421.3 L531.4 420.0 L531.9 418.8 L532.3 417.5 L532.8 416.3 L533.3 415.1 L533.8 413.9 L534.3 412.6 L534.8 411.4 L535.3 410.2 L535.8 409.0 L536.3 407.8 L536.9 406.6 L537.4 405.4 L537.9 404.3 L538.5 403.1 L539.1 401.9 L539.6 400.8 L540.2 399.6 L540.8 398.5 L541.4 397.3 L542.0 396.2 L542.5 395.0 L543.2 393.9 L543.8 392.8 L544.4 391.7 L545.0 390.6 L545.6 389.5 L546.3 388.4 L546.9 387.3 L547.6 386.2 L548.2 385.2 L548.9 384.1 L549.5 383.1 L550.2 382.0 L550.9 381.0 L551.6 379.9 L552.3 378.9 L552.9 377.9 L553.6 376.9 L554.3 375.9 L555.1 374.9 L555.8 373.9 L556.5 372.9 L557.2 372.0 L558.0 371.0 L558.7 370.1 L559.4 369.1 L560.2 368.2 L560.9 367.3 L561.7 366.3 L562.4 365.4 L563.2 364.5 L564.0 363.6 L564.8 362.8 L565.5 361.9 L566.3 361.0 L567.1 360.2 L567.9 359.3 L568.7 358.5 L569.5 357.7 L570.3 356.8 L571.1 356.0 L571.9 355.2 L572.8 354.4 L573.6 353.7 L574.4 352.9 L575.2 352.1 L576.1 351.4 L576.9 350.6 L577.8 349.9 L578.6 349.2 L579.5 348.5 L580.3 347.8 L581.2 347.1 L582.0 346.4 L582.9 345.7 L583.8 345.1 L584.6 344.4 L585.5 343.8 L586.4 343.1 L587.3 342.5 L588.1 341.9 L589.0 341.3 L589.9 340.7 L590.8 340.2 L591.7 339.6 L592.6 339.0 L593.5 338.5 L594.4 338.0 L595.3 337.4 L596.2 336.9 L597.1 336.4 L598.0 335.9 L598.9 335.5 L599.9 335.0 L600.8 334.5 L601.7 334.1 L602.6 333.7 L603.5 333.2 L604.5 332.8 L605.4 332.4 L606.3 332.0 L607.2 331.7 L608.2 331.3 L609.1 330.9 L610.0 330.6 L611.0 330.3 L611.9 329.9 L612.8 329.6 L613.8 329.3 L614.7 329.0 L615.6 328.8 L616.6 328.5 L617.5 328.3 L618.5 328.0 L619.4 327.8 L620.3 327.6 L621.3 327.4 L622.2 327.2 L623.2 327.0 L624.1 326.8 L625.1 326.7 L626.0 326.5 L626.9 326.4 L627.9 326.3 L628.8 326.1 L629.8 326.0 L630.7 326.0 L631.7 325.9 L632.6 325.8 L633.5 325.8 L634.5 325.7 L635.4 325.7 L636.4 325.7 L637.3 325.7 L638.2 325.7 L639.2 325.7 L640.1 325.7 L641.0 325.8 L642.0 325.8 L642.9 325.9 L643.8 326.0 L644.8 326.0 L645.7 326.1 L646.6 326.3 L647.5 326.4 L648.5 326.5 L649.4 326.7 L650.3 326.8 L651.2 327.0 L859.5 366.8 L860.4 367.0 L861.3 367.2 L862.2 367.4 L863.1 367.6 L863.9 367.8 L864.8 368.1 L865.7 368.3 L866.6 368.6 L867.5 368.9 L868.3 369.1 L869.2 369.4 L870.1 369.7 L870.9 370.0 L871.8 370.4 L872.7 370.7 L873.5 371.1 L874.4 371.4 L875.2 371.8 L876.1 372.2 L876.9 372.6 L877.7 373.0 L878.6 373.4 L879.4 373.8 L880.2 374.3 L881.0 374.7 L881.9 375.2 L882.7 375.6 L883.5 376.1 L884.3 376.6 L885.1 377.1 L885.9 377.6 L886.7 378.2 L887.5 378.7 L888.3 379.3 L889.1 379.8 L889.8 380.4 L890.6 381.0 L891.4 381.6 L892.1 382.2 L892.9 382.8 L893.6 383.4 L894.4 384.0 L895.1 384.7 L895.9 385.3 L896.6 386.0 L897.3 386.7 L898.1 387.3 L898.8 388.0 L899.5 388.7 L900.2 389.5 L900.9 390.2 L901.6 390.9 L902.3 391.7 L903.0 392.4 L903.7 393.2 L904.3 393.9 L905.0 394.7 L905.7 395.5 L906.3 396.3 L907.0 397.1 L907.6 398.0 L908.3 398.8 L908.9 399.6 L909.5 400.5 L910.2 401.3 L910.8 402.2 L911.4 403.1 L912.0 403.9 L912.6 404.8 L913.2 405.7 L913.8 406.6 L914.4 407.6 L914.9 408.5 L915.5 409.4 L916.1 410.4 L916.6 411.3 L917.2 412.3 L917.7 413.3 L918.2 414.2 L918.8 415.2 L919.3 416.2 L919.8 417.2 L920.3 418.2 L920.8 419.2 L921.3 420.3 L921.8 421.3 L922.3 422.3 L922.7 423.4 L923.2 424.4 L923.6 425.5 L924.1 426.6 L924.5 427.6 L925.0 428.7 L925.4 429.8 L925.8 430.9 L926.2 432.0 L926.7 433.1 L927.1 434.2 L927.4 435.3 L927.8 436.5 L928.2 437.6 L928.6 438.7 L928.9 439.9 L929.3 441.0 L929.6 442.2 L930.0 443.4 L930.3 444.5 L930.6 445.7 L931.0 446.9 L931.3 448.1 L931.6 449.3 L931.9 450.5 L932.2 451.7 L932.4 452.9 L932.7 454.1 L933.0 455.3 L933.2 456.5 L933.5 457.8 L933.7 459.0 L933.9 460.3 L934.2 461.5 L934.4 462.7 L934.6 464.0 L934.8 465.2 L935.0 466.5 L935.2 467.8 L935.3 469.0 L935.5 470.3 L935.7 471.6 L935.8 472.9 L936.0 474.1 L936.1 475.4 L936.2 476.7 L936.4 478.0 L936.5 479.3 L936.6 480.6 L936.7 481.9 L936.8 483.2 L936.8 484.5 L936.9 485.8 L937.0 487.2 L937.0 488.5 L937.1 489.8 L937.1 491.1 L937.1 492.4 L937.2 493.8 L937.2 495.1 L937.2 496.4 L937.2 497.7 L937.2 499.1 L937.2 500.4 L937.1 501.7 L937.1 503.1 L937.1 504.4 L937.0 505.7 L937.0 507.1 L936.9 508.4 L936.8 509.8 L936.7 511.1 L936.6 512.5 L936.5 513.8 L936.4 515.1 L936.3 516.5 L936.2 517.8 L936.1 519.2 L935.9 520.5 L935.8 521.9 L935.6 523.2 L935.5 524.5 L935.3 525.9 L935.1 527.2 L934.9 528.6 L934.7 529.9 L934.5 531.3 L934.3 532.6 L934.1 533.9 L933.9 535.3 L933.6 536.6 L933.4 538.0 L933.1 539.3 L932.9 540.6 L932.6 541.9 L932.3 543.3 L932.0 544.6 L931.8 545.9 L931.5 547.3 L931.2 548.6 L930.8 549.9 L930.5 551.2 L930.2 552.5 L929.9 553.8 L929.5 555.2 L929.2 556.5 L928.8 557.8 L928.4 559.1 L928.1 560.4 L927.7 561.7 L927.3 562.9 L926.9 564.2 L926.5 565.5 L926.1 566.8 L925.7 568.1 L925.2 569.4 L924.8 570.6 L924.4 571.9 L923.9 573.2 L923.5 574.4 L923.0 575.7 L922.5 576.9 L922.1 578.2 L921.6 579.4 L921.1 580.6 L920.6 581.9 L920.1 583.1 L919.6 584.3 L919.1 585.5 L918.6 586.8 L918.0 588.0 L917.5 589.2 L916.9 590.4 L916.4 591.6 L915.8 592.7 L915.3 593.9 L914.7 595.1 L914.1 596.3 L913.6 597.4 L913.0 598.6 L912.4 599.7 L911.8 600.9 L911.2 602.0 L910.6 603.2 L909.9 604.3 L909.3 605.4 L908.7 606.5 L908.0 607.6 L907.4 608.7 L906.7 609.8 L906.1 610.9 L905.4 612.0 L904.8 613.1 L904.1 614.1 L903.4 615.2 L902.7 616.2 L902.0 617.3 L901.3 618.3 L900.6 619.3 L899.9 620.4 L899.2 621.4 L898.5 622.4 L897.8 623.4 L897.1 624.4 L896.3 625.4 L895.6 626.3 L894.9 627.3 L894.1 628.3 L893.4 629.2 L892.6 630.1 L891.9 631.1 L891.1 632.0 L890.3 632.9 L889.5 633.8 L888.8 634.7 L888.0 635.6 L887.2 636.5 L886.4 637.4 L885.6 638.2 L884.8 639.1 L884.0 639.9 L883.2 640.8 L882.4 641.6 L881.6 642.4 L880.7 643.2 L879.9 644.0 L879.1 644.8 L878.3 645.6 L877.4 646.3 L876.6 647.1 L875.7 647.9 L874.9 648.6 L874.0 649.3 L873.2 650.1 L872.3 650.8 L871.5 651.5 L870.6 652.2 L869.7 652.8 L868.9 653.5 L868.0 654.2 L867.1 654.8 L866.3 655.5 L865.4 656.1 L864.5 656.7 L863.6 657.3 L862.7 657.9 L861.8 658.5 L860.9 659.1 L860.0 659.6 L859.1 660.2 L858.3 660.7 L857.3 661.3 L856.4 661.8 L855.5 662.3 L854.6 662.8 L853.7 663.3 L852.8 663.8 L851.9 664.3 L851.0 664.7 L850.1 665.2 L849.2 665.6 L848.2 666.0 L847.3 666.4 L846.4 666.8 L845.5 667.2 L844.5 667.6 L843.6 668.0 L842.7 668.3 L841.8 668.7 L840.8 669.0 L839.9 669.3 L839.0 669.7 L838.1 670.0 L837.1 670.2 L836.2 670.5 L835.3 670.8 L834.3 671.0 L833.4 671.3 L832.5 671.5 L831.5 671.7 L830.6 672.0 L829.7 672.1 L828.7 672.3 L827.8 672.5 L826.9 672.7 L825.9 672.8 L825.0 673.0 L824.1 673.1 L823.1 673.2 L822.2 673.3 L821.3 673.4 L820.3 673.5 L819.4 673.5 L818.5 673.6 L817.6 673.6 L816.6 673.7 L815.7 673.7 L814.8 673.7 L813.9 673.7 L812.9 673.7 L812.0 673.7 L811.1 673.6 L810.2 673.6 L809.3 673.5 L808.4 673.5 L807.5 673.4 L806.5 673.3 L805.6 673.2 L804.7 673.1 L803.8 672.9 L802.9 672.8 L802.0 672.6 L801.1 672.5 Z" fill="none" stroke="#182126" stroke-width="4.0" stroke-linejoin="round"/><ellipse cx="830.3" cy="519.6" rx="104.7" ry="155.6" transform="rotate(10.81 830.3 519.6)" fill="#3c9e92" stroke="#182126" stroke-width="4.0"/><path d="M821.4 640.8 L820.6 640.6 L819.8 640.4 L819.0 640.3 L818.2 640.1 L817.4 639.9 L816.6 639.7 L815.9 639.5 L815.1 639.3 L814.3 639.1 L813.5 638.8 L812.7 638.6 L812.0 638.3 L811.2 638.1 L810.4 637.8 L809.7 637.5 L808.9 637.2 L808.1 636.9 L807.4 636.6 L806.6 636.3 L805.9 636.0 L805.1 635.7 L804.4 635.3 L803.7 635.0 L802.9 634.6 L802.2 634.3 L801.4 633.9 L800.7 633.5 L800.0 633.1 L799.3 632.7 L798.5 632.3 L797.8 631.9 L797.1 631.4 L796.4 631.0 L795.7 630.6 L795.0 630.1 L794.3 629.6 L793.6 629.2 L792.9 628.7 L792.2 628.2 L791.5 627.7 L790.8 627.2 L790.2 626.7 L789.5 626.2 L788.8 625.7 L788.2 625.1 L787.5 624.6 L786.9 624.0 L786.2 623.5 L785.6 622.9 L784.9 622.3 L784.3 621.8 L783.6 621.2 L783.0 620.6 L782.4 620.0 L781.8 619.4 L781.1 618.7 L780.5 618.1 L779.9 617.5 L779.3 616.8 L778.7 616.2 L778.1 615.5 L777.6 614.9 L777.0 614.2 L776.4 613.5 L775.8 612.8 L775.3 612.1 L774.7 611.4 L774.1 610.7 L773.6 610.0 L773.0 609.3 L772.5 608.6 L772.0 607.8 L771.4 607.1 L770.9 606.4 L770.4 605.6 L769.9 604.8 L769.4 604.1 L768.9 603.3 L768.4 602.5 L767.9 601.7 L767.4 600.9 L766.9 600.1 L766.5 599.3 L766.0 598.5 L765.5 597.7 L765.1 596.9 L764.6 596.1 L764.2 595.2 L763.7 594.4 L763.3 593.6 L762.9 592.7 L762.5 591.8 L762.1 591.0 L761.7 590.1 L761.3 589.2 L760.9 588.4 L760.5 587.5 L760.1 586.6 L759.7 585.7 L759.3 584.8 L759.0 583.9 L758.6 583.0 L758.3 582.1 L757.9 581.2 L757.6 580.3 L757.3 579.3 L756.9 578.4 L756.6 577.5 L756.3 576.5 L756.0 575.6 L755.7 574.6 L755.4 573.7 L755.1 572.7 L754.9 571.8 L754.6 570.8 L754.3 569.8 L754.1 568.9 L753.8 567.9 L753.6 566.9 L753.3 565.9 L753.1 564.9 L752.9 564.0 L752.7 563.0 L752.5 562.0 L752.3 561.0 L752.1 560.0 L751.9 559.0 L751.7 558.0 L751.5 556.9 L751.3 555.9 L751.2 554.9 L751.0 553.9 L750.9 552.9 L750.7 551.9 L750.6 550.8 L750.5 549.8 L750.4 548.8 L750.3 547.7 L750.1 546.7 L750.1 545.7 L750.0 544.6 L749.9 543.6 L749.8 542.5 L749.7 541.5 L749.7 540.5 L749.6 539.4 L749.6 538.4 L749.5 537.3 L749.5 536.3 L749.5 535.2 L749.4 534.1 L749.4 533.1 L749.4 532.0 L749.4 531.0 L749.4 529.9 L749.5 528.9 L749.5 527.8 L749.5 526.7 L749.6 525.7 L749.6 524.6 L749.6 523.6 L749.7 522.5 L749.8 521.4 L749.8 520.4 L749.9 519.3 L750.0 518.3 L750.1 517.2 L750.2 516.1 L750.3 515.1 L750.4 514.0 L750.6 513.0 L750.7 511.9 L750.8 510.8 L751.0 509.8 L751.1 508.7 L751.3 507.7 L751.4 506.6 L751.6 505.6 L751.8 504.5 L752.0 503.5 L752.2 502.4 L752.4 501.4 L752.6 500.3 L752.8 499.3 L753.0 498.2 L753.2 497.2 L753.5 496.1 L753.7 495.1 L754.0 494.1 L754.2 493.0 L754.5 492.0 L754.7 491.0 L755.0 489.9 L755.3 488.9 L755.6 487.9 L755.9 486.9 L756.2 485.8 L756.5 484.8 L756.8 483.8 L757.1 482.8 L757.5 481.8 L757.8 480.8 L758.1 479.8 L758.5 478.8 L758.8 477.8 L759.2 476.8 L759.6 475.8 L759.9 474.8 L760.3 473.8 L760.7 472.9 L761.1 471.9 L761.5 470.9 L761.9 470.0 L762.3 469.0 L762.7 468.0 L763.1 467.1 L763.6 466.1 L764.0 465.2 L764.5 464.2 L764.9 463.3 L765.4 462.4 L765.8 461.4 L766.3 460.5 L766.7 459.6 L767.2 458.7 L767.7 457.7 L768.2 456.8 L768.7 455.9 L769.2 455.0 L769.7 454.1 L770.2 453.3 L770.7 452.4 L771.2 451.5 L771.8 450.6 L772.3 449.8 L772.8 448.9 L773.4 448.0 L773.9 447.2 L774.5 446.4 L775.0 445.5 L775.6 444.7 L776.2 443.9 L776.7 443.0 L777.3 442.2 L777.9 441.4 L778.5 440.6 L779.1 439.8 L779.7 439.0 L780.3 438.2 L780.9 437.4 L781.5 436.7 L782.1 435.9 L782.8 435.1 L783.4 434.4 L784.0 433.6 L784.7 432.9 L785.3 432.2 L785.9 431.4 L786.6 430.7 L787.2 430.0 L787.9 429.3 L788.6 428.6 L789.2 427.9 L789.9 427.2 L790.6 426.5 L791.3 425.9 L791.9 425.2 L792.6 424.5 L793.3 423.9 L794.0 423.3 L794.7 422.6 L795.4 422.0 L796.1 421.4 L796.8 420.8 L797.5 420.2 L798.3 419.6 L799.0 419.0 L799.7 418.4 L800.4 417.8 L801.1 417.2 L801.9 416.7 L802.6 416.1 L803.4 415.6 L804.1 415.1 L804.8 414.5 L805.6 414.0 L806.3 413.5 L807.1 413.0 L807.8 412.5 L808.6 412.0 L809.4 411.5 L810.1 411.1 L810.9 410.6 L811.7 410.2 L812.4 409.7 L813.2 409.3 L814.0 408.8 L814.8 408.4 L815.5 408.0 L816.3 407.6 L817.1 407.2 L817.9 406.8 L818.7 406.5 L819.5 406.1 L820.3 405.7 L821.1 405.4 L821.9 405.0 L822.7 404.7 L823.4 404.4 L824.2 404.1 L825.1 403.8 L825.9 403.5 L826.7 403.2 L827.5 402.9 L828.3 402.6 L829.1 402.4 L829.9 402.1 L830.7 401.9 L831.5 401.6 L832.3 401.4 L833.1 401.2 L833.9 401.0 L834.8 400.8 L835.6 400.6 L836.4 400.4 L837.2 400.2 L838.0 400.1 L838.8 399.9 L839.6 399.8 L840.5 399.7 L841.3 399.5 L842.1 399.4 L842.9 399.3 L843.7 399.2 L844.6 399.1 L845.4 399.0 L846.2 399.0 L847.0 398.9 L847.8 398.9 L848.6 398.8 L849.4 398.8 L850.3 398.8 L851.1 398.7 L851.9 398.7 L852.7 398.7 L853.5 398.8 L854.3 398.8 L855.1 398.8 L856.0 398.9 L856.8 398.9 L857.6 399.0 L858.4 399.0 L859.2 399.1 L860.0 399.2 L860.8 399.3 L861.6 399.4 L862.4 399.5 L863.2 399.6 L864.0 399.8 L864.8 399.9 L865.6 400.1 L866.4 400.2 L867.2 400.4 L1030.1 436.1 L1030.8 436.3 L1031.4 436.4 L1032.1 436.6 L1032.7 436.8 L1033.4 437.0 L1034.1 437.2 L1034.7 437.4 L1035.4 437.6 L1036.0 437.8 L1036.7 438.0 L1037.3 438.3 L1038.0 438.5 L1038.6 438.8 L1039.2 439.1 L1039.9 439.3 L1040.5 439.6 L1041.1 439.9 L1041.8 440.2 L1042.4 440.5 L1043.0 440.8 L1043.6 441.2 L1044.2 441.5 L1044.8 441.8 L1045.5 442.2 L1046.1 442.6 L1046.7 442.9 L1047.3 443.3 L1047.9 443.7 L1048.5 444.1 L1049.1 444.5 L1049.6 444.9 L1050.2 445.3 L1050.8 445.7 L1051.4 446.2 L1052.0 446.6 L1052.5 447.1 L1053.1 447.5 L1053.7 448.0 L1054.2 448.5 L1054.8 449.0 L1055.3 449.5 L1055.9 450.0 L1056.4 450.5 L1057.0 451.0 L1057.5 451.5 L1058.0 452.0 L1058.6 452.6 L1059.1 453.1 L1059.6 453.7 L1060.1 454.2 L1060.7 454.8 L1061.2 455.4 L1061.7 456.0 L1062.2 456.6 L1062.7 457.2 L1063.2 457.8 L1063.6 458.4 L1064.1 459.0 L1064.6 459.6 L1065.1 460.3 L1065.6 460.9 L1066.0 461.5 L1066.5 462.2 L1066.9 462.9 L1067.4 463.5 L1067.8 464.2 L1068.3 464.9 L1068.7 465.6 L1069.1 466.3 L1069.6 467.0 L1070.0 467.7 L1070.4 468.4 L1070.8 469.1 L1071.2 469.9 L1071.6 470.6 L1072.0 471.3 L1072.4 472.1 L1072.8 472.8 L1073.2 473.6 L1073.6 474.4 L1074.0 475.1 L1074.3 475.9 L1074.7 476.7 L1075.0 477.5 L1075.4 478.3 L1075.7 479.1 L1076.1 479.9 L1076.4 480.7 L1076.8 481.5 L1077.1 482.4 L1077.4 483.2 L1077.7 484.0 L1078.0 484.9 L1078.3 485.7 L1078.6 486.5 L1078.9 487.4 L1079.2 488.3 L1079.5 489.1 L1079.8 490.0 L1080.0 490.9 L1080.3 491.8 L1080.6 492.6 L1080.8 493.5 L1081.1 494.4 L1081.3 495.3 L1081.5 496.2 L1081.8 497.1 L1082.0 498.0 L1082.2 498.9 L1082.4 499.9 L1082.6 500.8 L1082.8 501.7 L1083.0 502.6 L1083.2 503.6 L1083.4 504.5 L1083.6 505.5 L1083.8 506.4 L1083.9 507.4 L1084.1 508.3 L1084.2 509.3 L1084.4 510.2 L1084.5 511.2 L1084.7 512.2 L1084.8 513.1 L1084.9 514.1 L1085.1 515.1 L1085.2 516.0 L1085.3 517.0 L1085.4 518.0 L1085.5 519.0 L1085.6 520.0 L1085.6 521.0 L1085.7 522.0 L1085.8 523.0 L1085.8 524.0 L1085.9 525.0 L1086.0 526.0 L1086.0 527.0 L1086.0 528.0 L1086.1 529.0 L1086.1 530.0 L1086.1 531.0 L1086.1 532.0 L1086.2 533.0 L1086.2 534.1 L1086.2 535.1 L1086.1 536.1 L1086.1 537.1 L1086.1 538.1 L1086.1 539.2 L1086.1 540.2 L1086.0 541.2 L1086.0 542.2 L1085.9 543.3 L1085.9 544.3 L1085.8 545.3 L1085.7 546.4 L1085.6 547.4 L1085.6 548.4 L1085.5 549.5 L1085.4 550.5 L1085.3 551.5 L1085.2 552.5 L1085.1 553.6 L1084.9 554.6 L1084.8 555.6 L1084.7 556.7 L1084.6 557.7 L1084.4 558.7 L1084.3 559.8 L1084.1 560.8 L1084.0 561.8 L1083.8 562.8 L1083.6 563.9 L1083.4 564.9 L1083.3 565.9 L1083.1 567.0 L1082.9 568.0 L1082.7 569.0 L1082.5 570.0 L1082.3 571.0 L1082.0 572.1 L1081.8 573.1 L1081.6 574.1 L1081.3 575.1 L1081.1 576.1 L1080.9 577.1 L1080.6 578.1 L1080.3 579.1 L1080.1 580.2 L1079.8 581.2 L1079.5 582.2 L1079.3 583.2 L1079.0 584.2 L1078.7 585.1 L1078.4 586.1 L1078.1 587.1 L1077.8 588.1 L1077.4 589.1 L1077.1 590.1 L1076.8 591.1 L1076.5 592.0 L1076.1 593.0 L1075.8 594.0 L1075.4 594.9 L1075.1 595.9 L1074.7 596.9 L1074.4 597.8 L1074.0 598.8 L1073.6 599.7 L1073.3 600.7 L1072.9 601.6 L1072.5 602.5 L1072.1 603.5 L1071.7 604.4 L1071.3 605.3 L1070.9 606.3 L1070.5 607.2 L1070.1 608.1 L1069.6 609.0 L1069.2 609.9 L1068.8 610.8 L1068.3 611.7 L1067.9 612.6 L1067.4 613.5 L1067.0 614.4 L1066.5 615.3 L1066.1 616.1 L1065.6 617.0 L1065.1 617.9 L1064.7 618.7 L1064.2 619.6 L1063.7 620.4 L1063.2 621.3 L1062.7 622.1 L1062.2 623.0 L1061.7 623.8 L1061.2 624.6 L1060.7 625.4 L1060.2 626.2 L1059.7 627.0 L1059.2 627.9 L1058.6 628.6 L1058.1 629.4 L1057.6 630.2 L1057.0 631.0 L1056.5 631.8 L1056.0 632.5 L1055.4 633.3 L1054.9 634.1 L1054.3 634.8 L1053.7 635.5 L1053.2 636.3 L1052.6 637.0 L1052.0 637.7 L1051.5 638.5 L1050.9 639.2 L1050.3 639.9 L1049.7 640.6 L1049.1 641.3 L1048.5 641.9 L1047.9 642.6 L1047.4 643.3 L1046.8 643.9 L1046.1 644.6 L1045.5 645.3 L1044.9 645.9 L1044.3 646.5 L1043.7 647.2 L1043.1 647.8 L1042.5 648.4 L1041.8 649.0 L1041.2 649.6 L1040.6 650.2 L1040.0 650.8 L1039.3 651.4 L1038.7 651.9 L1038.0 652.5 L1037.4 653.0 L1036.8 653.6 L1036.1 654.1 L1035.5 654.7 L1034.8 655.2 L1034.2 655.7 L1033.5 656.2 L1032.8 656.7 L1032.2 657.2 L1031.5 657.7 L1030.9 658.2 L1030.2 658.6 L1029.5 659.1 L1028.9 659.5 L1028.2 660.0 L1027.5 660.4 L1026.8 660.8 L1026.2 661.3 L1025.5 661.7 L1024.8 662.1 L1024.1 662.5 L1023.4 662.9 L1022.8 663.2 L1022.1 663.6 L1021.4 664.0 L1020.7 664.3 L1020.0 664.7 L1019.3 665.0 L1018.6 665.3 L1017.9 665.7 L1017.3 666.0 L1016.6 666.3 L1015.9 666.6 L1015.2 666.8 L1014.5 667.1 L1013.8 667.4 L1013.1 667.6 L1012.4 667.9 L1011.7 668.1 L1011.0 668.4 L1010.3 668.6 L1009.6 668.8 L1008.9 669.0 L1008.2 669.2 L1007.5 669.4 L1006.8 669.6 L1006.1 669.8 L1005.4 669.9 L1004.7 670.1 L1004.0 670.2 L1003.3 670.3 L1002.6 670.5 L1001.9 670.6 L1001.2 670.7 L1000.5 670.8 L999.8 670.9 L999.1 671.0 L998.4 671.0 L997.7 671.1 L997.0 671.2 L996.3 671.2 L995.6 671.2 L995.0 671.3 L994.3 671.3 L993.6 671.3 L992.9 671.3 L992.2 671.3 L991.5 671.3 L990.8 671.2 L990.1 671.2 L989.4 671.2 L988.8 671.1 L988.1 671.0 L987.4 671.0 L986.7 670.9 L986.0 670.8 L985.4 670.7 L984.7 670.6 L984.0 670.5 Z" fill="#fcfaf0"/><g clip-path="url(#cc)"><path d="M0.0 311.5 L1536.0 618.7 L1536.0 713.2 L0.0 406.0 Z" fill="#efece0"/><path d="M0.0 406.0 L1536.0 713.2 L1536.0 769.2 L0.0 462.0 Z" fill="#d6d7cd"/><path d="M0.0 462.0 L1536.0 769.2 L1536.0 867.2 L0.0 560.0 Z" fill="#e8e6da"/></g><path d="M821.4 640.8 L820.6 640.6 L819.8 640.4 L819.0 640.3 L818.2 640.1 L817.4 639.9 L816.6 639.7 L815.9 639.5 L815.1 639.3 L814.3 639.1 L813.5 638.8 L812.7 638.6 L812.0 638.3 L811.2 638.1 L810.4 637.8 L809.7 637.5 L808.9 637.2 L808.1 636.9 L807.4 636.6 L806.6 636.3 L805.9 636.0 L805.1 635.7 L804.4 635.3 L803.7 635.0 L802.9 634.6 L802.2 634.3 L801.4 633.9 L800.7 633.5 L800.0 633.1 L799.3 632.7 L798.5 632.3 L797.8 631.9 L797.1 631.4 L796.4 631.0 L795.7 630.6 L795.0 630.1 L794.3 629.6 L793.6 629.2 L792.9 628.7 L792.2 628.2 L791.5 627.7 L790.8 627.2 L790.2 626.7 L789.5 626.2 L788.8 625.7 L788.2 625.1 L787.5 624.6 L786.9 624.0 L786.2 623.5 L785.6 622.9 L784.9 622.3 L784.3 621.8 L783.6 621.2 L783.0 620.6 L782.4 620.0 L781.8 619.4 L781.1 618.7 L780.5 618.1 L779.9 617.5 L779.3 616.8 L778.7 616.2 L778.1 615.5 L777.6 614.9 L777.0 614.2 L776.4 613.5 L775.8 612.8 L775.3 612.1 L774.7 611.4 L774.1 610.7 L773.6 610.0 L773.0 609.3 L772.5 608.6 L772.0 607.8 L771.4 607.1 L770.9 606.4 L770.4 605.6 L769.9 604.8 L769.4 604.1 L768.9 603.3 L768.4 602.5 L767.9 601.7 L767.4 600.9 L766.9 600.1 L766.5 599.3 L766.0 598.5 L765.5 597.7 L765.1 596.9 L764.6 596.1 L764.2 595.2 L763.7 594.4 L763.3 593.6 L762.9 592.7 L762.5 591.8 L762.1 591.0 L761.7 590.1 L761.3 589.2 L760.9 588.4 L760.5 587.5 L760.1 586.6 L759.7 585.7 L759.3 584.8 L759.0 583.9 L758.6 583.0 L758.3 582.1 L757.9 581.2 L757.6 580.3 L757.3 579.3 L756.9 578.4 L756.6 577.5 L756.3 576.5 L756.0 575.6 L755.7 574.6 L755.4 573.7 L755.1 572.7 L754.9 571.8 L754.6 570.8 L754.3 569.8 L754.1 568.9 L753.8 567.9 L753.6 566.9 L753.3 565.9 L753.1 564.9 L752.9 564.0 L752.7 563.0 L752.5 562.0 L752.3 561.0 L752.1 560.0 L751.9 559.0 L751.7 558.0 L751.5 556.9 L751.3 555.9 L751.2 554.9 L751.0 553.9 L750.9 552.9 L750.7 551.9 L750.6 550.8 L750.5 549.8 L750.4 548.8 L750.3 547.7 L750.1 546.7 L750.1 545.7 L750.0 544.6 L749.9 543.6 L749.8 542.5 L749.7 541.5 L749.7 540.5 L749.6 539.4 L749.6 538.4 L749.5 537.3 L749.5 536.3 L749.5 535.2 L749.4 534.1 L749.4 533.1 L749.4 532.0 L749.4 531.0 L749.4 529.9 L749.5 528.9 L749.5 527.8 L749.5 526.7 L749.6 525.7 L749.6 524.6 L749.6 523.6 L749.7 522.5 L749.8 521.4 L749.8 520.4 L749.9 519.3 L750.0 518.3 L750.1 517.2 L750.2 516.1 L750.3 515.1 L750.4 514.0 L750.6 513.0 L750.7 511.9 L750.8 510.8 L751.0 509.8 L751.1 508.7 L751.3 507.7 L751.4 506.6 L751.6 505.6 L751.8 504.5 L752.0 503.5 L752.2 502.4 L752.4 501.4 L752.6 500.3 L752.8 499.3 L753.0 498.2 L753.2 497.2 L753.5 496.1 L753.7 495.1 L754.0 494.1 L754.2 493.0 L754.5 492.0 L754.7 491.0 L755.0 489.9 L755.3 488.9 L755.6 487.9 L755.9 486.9 L756.2 485.8 L756.5 484.8 L756.8 483.8 L757.1 482.8 L757.5 481.8 L757.8 480.8 L758.1 479.8 L758.5 478.8 L758.8 477.8 L759.2 476.8 L759.6 475.8 L759.9 474.8 L760.3 473.8 L760.7 472.9 L761.1 471.9 L761.5 470.9 L761.9 470.0 L762.3 469.0 L762.7 468.0 L763.1 467.1 L763.6 466.1 L764.0 465.2 L764.5 464.2 L764.9 463.3 L765.4 462.4 L765.8 461.4 L766.3 460.5 L766.7 459.6 L767.2 458.7 L767.7 457.7 L768.2 456.8 L768.7 455.9 L769.2 455.0 L769.7 454.1 L770.2 453.3 L770.7 452.4 L771.2 451.5 L771.8 450.6 L772.3 449.8 L772.8 448.9 L773.4 448.0 L773.9 447.2 L774.5 446.4 L775.0 445.5 L775.6 444.7 L776.2 443.9 L776.7 443.0 L777.3 442.2 L777.9 441.4 L778.5 440.6 L779.1 439.8 L779.7 439.0 L780.3 438.2 L780.9 437.4 L781.5 436.7 L782.1 435.9 L782.8 435.1 L783.4 434.4 L784.0 433.6 L784.7 432.9 L785.3 432.2 L785.9 431.4 L786.6 430.7 L787.2 430.0 L787.9 429.3 L788.6 428.6 L789.2 427.9 L789.9 427.2 L790.6 426.5 L791.3 425.9 L791.9 425.2 L792.6 424.5 L793.3 423.9 L794.0 423.3 L794.7 422.6 L795.4 422.0 L796.1 421.4 L796.8 420.8 L797.5 420.2 L798.3 419.6 L799.0 419.0 L799.7 418.4 L800.4 417.8 L801.1 417.2 L801.9 416.7 L802.6 416.1 L803.4 415.6 L804.1 415.1 L804.8 414.5 L805.6 414.0 L806.3 413.5 L807.1 413.0 L807.8 412.5 L808.6 412.0 L809.4 411.5 L810.1 411.1 L810.9 410.6 L811.7 410.2 L812.4 409.7 L813.2 409.3 L814.0 408.8 L814.8 408.4 L815.5 408.0 L816.3 407.6 L817.1 407.2 L817.9 406.8 L818.7 406.5 L819.5 406.1 L820.3 405.7 L821.1 405.4 L821.9 405.0 L822.7 404.7 L823.4 404.4 L824.2 404.1 L825.1 403.8 L825.9 403.5 L826.7 403.2 L827.5 402.9 L828.3 402.6 L829.1 402.4 L829.9 402.1 L830.7 401.9 L831.5 401.6 L832.3 401.4 L833.1 401.2 L833.9 401.0 L834.8 400.8 L835.6 400.6 L836.4 400.4 L837.2 400.2 L838.0 400.1 L838.8 399.9 L839.6 399.8 L840.5 399.7 L841.3 399.5 L842.1 399.4 L842.9 399.3 L843.7 399.2 L844.6 399.1 L845.4 399.0 L846.2 399.0 L847.0 398.9 L847.8 398.9 L848.6 398.8 L849.4 398.8 L850.3 398.8 L851.1 398.7 L851.9 398.7 L852.7 398.7 L853.5 398.8 L854.3 398.8 L855.1 398.8 L856.0 398.9 L856.8 398.9 L857.6 399.0 L858.4 399.0 L859.2 399.1 L860.0 399.2 L860.8 399.3 L861.6 399.4 L862.4 399.5 L863.2 399.6 L864.0 399.8 L864.8 399.9 L865.6 400.1 L866.4 400.2 L867.2 400.4 L1030.1 436.1 L1030.8 436.3 L1031.4 436.4 L1032.1 436.6 L1032.7 436.8 L1033.4 437.0 L1034.1 437.2 L1034.7 437.4 L1035.4 437.6 L1036.0 437.8 L1036.7 438.0 L1037.3 438.3 L1038.0 438.5 L1038.6 438.8 L1039.2 439.1 L1039.9 439.3 L1040.5 439.6 L1041.1 439.9 L1041.8 440.2 L1042.4 440.5 L1043.0 440.8 L1043.6 441.2 L1044.2 441.5 L1044.8 441.8 L1045.5 442.2 L1046.1 442.6 L1046.7 442.9 L1047.3 443.3 L1047.9 443.7 L1048.5 444.1 L1049.1 444.5 L1049.6 444.9 L1050.2 445.3 L1050.8 445.7 L1051.4 446.2 L1052.0 446.6 L1052.5 447.1 L1053.1 447.5 L1053.7 448.0 L1054.2 448.5 L1054.8 449.0 L1055.3 449.5 L1055.9 450.0 L1056.4 450.5 L1057.0 451.0 L1057.5 451.5 L1058.0 452.0 L1058.6 452.6 L1059.1 453.1 L1059.6 453.7 L1060.1 454.2 L1060.7 454.8 L1061.2 455.4 L1061.7 456.0 L1062.2 456.6 L1062.7 457.2 L1063.2 457.8 L1063.6 458.4 L1064.1 459.0 L1064.6 459.6 L1065.1 460.3 L1065.6 460.9 L1066.0 461.5 L1066.5 462.2 L1066.9 462.9 L1067.4 463.5 L1067.8 464.2 L1068.3 464.9 L1068.7 465.6 L1069.1 466.3 L1069.6 467.0 L1070.0 467.7 L1070.4 468.4 L1070.8 469.1 L1071.2 469.9 L1071.6 470.6 L1072.0 471.3 L1072.4 472.1 L1072.8 472.8 L1073.2 473.6 L1073.6 474.4 L1074.0 475.1 L1074.3 475.9 L1074.7 476.7 L1075.0 477.5 L1075.4 478.3 L1075.7 479.1 L1076.1 479.9 L1076.4 480.7 L1076.8 481.5 L1077.1 482.4 L1077.4 483.2 L1077.7 484.0 L1078.0 484.9 L1078.3 485.7 L1078.6 486.5 L1078.9 487.4 L1079.2 488.3 L1079.5 489.1 L1079.8 490.0 L1080.0 490.9 L1080.3 491.8 L1080.6 492.6 L1080.8 493.5 L1081.1 494.4 L1081.3 495.3 L1081.5 496.2 L1081.8 497.1 L1082.0 498.0 L1082.2 498.9 L1082.4 499.9 L1082.6 500.8 L1082.8 501.7 L1083.0 502.6 L1083.2 503.6 L1083.4 504.5 L1083.6 505.5 L1083.8 506.4 L1083.9 507.4 L1084.1 508.3 L1084.2 509.3 L1084.4 510.2 L1084.5 511.2 L1084.7 512.2 L1084.8 513.1 L1084.9 514.1 L1085.1 515.1 L1085.2 516.0 L1085.3 517.0 L1085.4 518.0 L1085.5 519.0 L1085.6 520.0 L1085.6 521.0 L1085.7 522.0 L1085.8 523.0 L1085.8 524.0 L1085.9 525.0 L1086.0 526.0 L1086.0 527.0 L1086.0 528.0 L1086.1 529.0 L1086.1 530.0 L1086.1 531.0 L1086.1 532.0 L1086.2 533.0 L1086.2 534.1 L1086.2 535.1 L1086.1 536.1 L1086.1 537.1 L1086.1 538.1 L1086.1 539.2 L1086.1 540.2 L1086.0 541.2 L1086.0 542.2 L1085.9 543.3 L1085.9 544.3 L1085.8 545.3 L1085.7 546.4 L1085.6 547.4 L1085.6 548.4 L1085.5 549.5 L1085.4 550.5 L1085.3 551.5 L1085.2 552.5 L1085.1 553.6 L1084.9 554.6 L1084.8 555.6 L1084.7 556.7 L1084.6 557.7 L1084.4 558.7 L1084.3 559.8 L1084.1 560.8 L1084.0 561.8 L1083.8 562.8 L1083.6 563.9 L1083.4 564.9 L1083.3 565.9 L1083.1 567.0 L1082.9 568.0 L1082.7 569.0 L1082.5 570.0 L1082.3 571.0 L1082.0 572.1 L1081.8 573.1 L1081.6 574.1 L1081.3 575.1 L1081.1 576.1 L1080.9 577.1 L1080.6 578.1 L1080.3 579.1 L1080.1 580.2 L1079.8 581.2 L1079.5 582.2 L1079.3 583.2 L1079.0 584.2 L1078.7 585.1 L1078.4 586.1 L1078.1 587.1 L1077.8 588.1 L1077.4 589.1 L1077.1 590.1 L1076.8 591.1 L1076.5 592.0 L1076.1 593.0 L1075.8 594.0 L1075.4 594.9 L1075.1 595.9 L1074.7 596.9 L1074.4 597.8 L1074.0 598.8 L1073.6 599.7 L1073.3 600.7 L1072.9 601.6 L1072.5 602.5 L1072.1 603.5 L1071.7 604.4 L1071.3 605.3 L1070.9 606.3 L1070.5 607.2 L1070.1 608.1 L1069.6 609.0 L1069.2 609.9 L1068.8 610.8 L1068.3 611.7 L1067.9 612.6 L1067.4 613.5 L1067.0 614.4 L1066.5 615.3 L1066.1 616.1 L1065.6 617.0 L1065.1 617.9 L1064.7 618.7 L1064.2 619.6 L1063.7 620.4 L1063.2 621.3 L1062.7 622.1 L1062.2 623.0 L1061.7 623.8 L1061.2 624.6 L1060.7 625.4 L1060.2 626.2 L1059.7 627.0 L1059.2 627.9 L1058.6 628.6 L1058.1 629.4 L1057.6 630.2 L1057.0 631.0 L1056.5 631.8 L1056.0 632.5 L1055.4 633.3 L1054.9 634.1 L1054.3 634.8 L1053.7 635.5 L1053.2 636.3 L1052.6 637.0 L1052.0 637.7 L1051.5 638.5 L1050.9 639.2 L1050.3 639.9 L1049.7 640.6 L1049.1 641.3 L1048.5 641.9 L1047.9 642.6 L1047.4 643.3 L1046.8 643.9 L1046.1 644.6 L1045.5 645.3 L1044.9 645.9 L1044.3 646.5 L1043.7 647.2 L1043.1 647.8 L1042.5 648.4 L1041.8 649.0 L1041.2 649.6 L1040.6 650.2 L1040.0 650.8 L1039.3 651.4 L1038.7 651.9 L1038.0 652.5 L1037.4 653.0 L1036.8 653.6 L1036.1 654.1 L1035.5 654.7 L1034.8 655.2 L1034.2 655.7 L1033.5 656.2 L1032.8 656.7 L1032.2 657.2 L1031.5 657.7 L1030.9 658.2 L1030.2 658.6 L1029.5 659.1 L1028.9 659.5 L1028.2 660.0 L1027.5 660.4 L1026.8 660.8 L1026.2 661.3 L1025.5 661.7 L1024.8 662.1 L1024.1 662.5 L1023.4 662.9 L1022.8 663.2 L1022.1 663.6 L1021.4 664.0 L1020.7 664.3 L1020.0 664.7 L1019.3 665.0 L1018.6 665.3 L1017.9 665.7 L1017.3 666.0 L1016.6 666.3 L1015.9 666.6 L1015.2 666.8 L1014.5 667.1 L1013.8 667.4 L1013.1 667.6 L1012.4 667.9 L1011.7 668.1 L1011.0 668.4 L1010.3 668.6 L1009.6 668.8 L1008.9 669.0 L1008.2 669.2 L1007.5 669.4 L1006.8 669.6 L1006.1 669.8 L1005.4 669.9 L1004.7 670.1 L1004.0 670.2 L1003.3 670.3 L1002.6 670.5 L1001.9 670.6 L1001.2 670.7 L1000.5 670.8 L999.8 670.9 L999.1 671.0 L998.4 671.0 L997.7 671.1 L997.0 671.2 L996.3 671.2 L995.6 671.2 L995.0 671.3 L994.3 671.3 L993.6 671.3 L992.9 671.3 L992.2 671.3 L991.5 671.3 L990.8 671.2 L990.1 671.2 L989.4 671.2 L988.8 671.1 L988.1 671.0 L987.4 671.0 L986.7 670.9 L986.0 670.8 L985.4 670.7 L984.7 670.6 L984.0 670.5 Z" fill="none" stroke="#182126" stroke-width="4.0" stroke-linejoin="round"/><ellipse cx="1006.1" cy="553.1" rx="78.2" ry="119.4" transform="rotate(10.96 1006.1 553.1)" fill="#6cc4b3" /><g clip-path="url(#cf2)"><ellipse cx="1013.9" cy="576.1" rx="46.0" ry="77.0" transform="rotate(6.00 1013.9 576.1)" fill="#5eb4a5"/></g><ellipse cx="1006.1" cy="553.1" rx="78.2" ry="119.4" transform="rotate(10.96 1006.1 553.1)" fill="none" stroke="#182126" stroke-width="4.0"/><path d="M1254.6 655.1 L1000.4 609.9 L1000.0 609.8 L999.7 609.7 L999.4 609.7 L999.0 609.6 L998.7 609.5 L998.4 609.4 L998.0 609.4 L997.7 609.3 L997.4 609.2 L997.1 609.1 L996.7 609.0 L996.4 608.8 L996.1 608.7 L995.8 608.6 L995.4 608.5 L995.1 608.4 L994.8 608.2 L994.5 608.1 L994.1 608.0 L993.8 607.8 L993.5 607.7 L993.2 607.5 L992.9 607.3 L992.6 607.2 L992.2 607.0 L991.9 606.8 L991.6 606.7 L991.3 606.5 L991.0 606.3 L990.7 606.1 L990.4 605.9 L990.1 605.7 L989.8 605.5 L989.5 605.3 L989.2 605.1 L988.9 604.9 L988.6 604.7 L988.3 604.4 L988.0 604.2 L987.7 604.0 L987.4 603.8 L987.1 603.5 L986.8 603.3 L986.5 603.0 L986.2 602.8 L985.9 602.5 L985.7 602.3 L985.4 602.0 L985.1 601.7 L984.8 601.5 L984.5 601.2 L984.3 600.9 L984.0 600.6 L983.7 600.3 L983.4 600.0 L983.2 599.7 L982.9 599.4 L982.6 599.1 L982.4 598.8 L982.1 598.5 L981.9 598.2 L981.6 597.9 L981.3 597.6 L981.1 597.3 L980.8 596.9 L980.6 596.6 L980.3 596.3 L980.1 595.9 L979.8 595.6 L979.6 595.2 L979.4 594.9 L979.1 594.5 L978.9 594.2 L978.7 593.8 L978.4 593.5 L978.2 593.1 L978.0 592.7 L977.7 592.4 L977.5 592.0 L977.3 591.6 L977.1 591.2 L976.9 590.8 L976.7 590.5 L976.4 590.1 L976.2 589.7 L976.0 589.3 L975.8 588.9 L975.6 588.5 L975.4 588.1 L975.2 587.7 L975.0 587.2 L974.8 586.8 L974.6 586.4 L974.5 586.0 L974.3 585.6 L974.1 585.1 L973.9 584.7 L973.7 584.3 L973.6 583.9 L973.4 583.4 L973.2 583.0 L973.1 582.5 L972.9 582.1 L972.7 581.6 L972.6 581.2 L972.4 580.7 L972.3 580.3 L972.1 579.8 L972.0 579.4 L971.8 578.9 L971.7 578.5 L971.5 578.0 L971.4 577.5 L971.3 577.1 L971.1 576.6 L971.0 576.1 L970.9 575.6 L970.7 575.2 L970.6 574.7 L970.5 574.2 L970.4 573.7 L970.3 573.2 L970.2 572.8 L970.0 572.3 L969.9 571.8 L969.8 571.3 L969.7 570.8 L969.6 570.3 L969.5 569.8 L969.5 569.3 L969.4 568.8 L969.3 568.3 L969.2 567.8 L969.1 567.3 L969.0 566.8 L969.0 566.3 L968.9 565.8 L968.8 565.3 L968.8 564.8 L968.7 564.3 L968.6 563.8 L968.6 563.3 L968.5 562.7 L968.5 562.2 L968.4 561.7 L968.4 561.2 L968.4 560.7 L968.3 560.2 L968.3 559.6 L968.2 559.1 L968.2 558.6 L968.2 558.1 L968.2 557.6 L968.1 557.0 L968.1 556.5 L968.1 556.0 L968.1 555.5 L968.1 555.0 L968.1 554.4 L968.1 553.9 L968.1 553.4 L968.1 552.9 L968.1 552.3 L968.1 551.8 L968.1 551.3 L968.1 550.8 L968.1 550.2 L968.2 549.7 L968.2 549.2 L968.2 548.7 L968.2 548.1 L968.3 547.6 L968.3 547.1 L968.3 546.6 L968.4 546.0 L968.4 545.5 L968.5 545.0 L968.5 544.5 L968.6 543.9 L968.6 543.4 L968.7 542.9 L968.7 542.4 L968.8 541.9 L968.9 541.3 L969.0 540.8 L969.0 540.3 L969.1 539.8 L969.2 539.3 L969.3 538.8 L969.3 538.2 L969.4 537.7 L969.5 537.2 L969.6 536.7 L969.7 536.2 L969.8 535.7 L969.9 535.2 L970.0 534.7 L970.1 534.2 L970.2 533.7 L970.3 533.1 L970.5 532.6 L970.6 532.1 L970.7 531.6 L970.8 531.1 L970.9 530.6 L971.1 530.1 L971.2 529.7 L971.3 529.2 L971.5 528.7 L971.6 528.2 L971.8 527.7 L971.9 527.2 L972.1 526.7 L972.2 526.2 L972.4 525.8 L972.5 525.3 L972.7 524.8 L972.8 524.3 L973.0 523.9 L973.2 523.4 L973.3 522.9 L973.5 522.4 L973.7 522.0 L973.9 521.5 L974.0 521.1 L974.2 520.6 L974.4 520.1 L974.6 519.7 L974.8 519.2 L975.0 518.8 L975.2 518.3 L975.4 517.9 L975.6 517.4 L975.8 517.0 L976.0 516.6 L976.2 516.1 L976.4 515.7 L976.6 515.3 L976.8 514.8 L977.0 514.4 L977.2 514.0 L977.5 513.6 L977.7 513.2 L977.9 512.8 L978.1 512.3 L978.4 511.9 L978.6 511.5 L978.8 511.1 L979.1 510.7 L979.3 510.3 L979.5 509.9 L979.8 509.6 L980.0 509.2 L980.3 508.8 L980.5 508.4 L980.8 508.0 L981.0 507.7 L981.3 507.3 L981.5 506.9 L981.8 506.6 L982.0 506.2 L982.3 505.8 L982.6 505.5 L982.8 505.1 L983.1 504.8 L983.4 504.4 L983.6 504.1 L983.9 503.8 L984.2 503.4 L984.4 503.1 L984.7 502.8 L985.0 502.5 L985.3 502.1 L985.6 501.8 L985.9 501.5 L986.1 501.2 L986.4 500.9 L986.7 500.6 L987.0 500.3 L987.3 500.0 L987.6 499.7 L987.9 499.4 L988.2 499.1 L988.5 498.9 L988.8 498.6 L989.1 498.3 L989.4 498.1 L989.7 497.8 L990.0 497.5 L990.3 497.3 L990.6 497.0 L990.9 496.8 L991.2 496.6 L991.5 496.3 L991.8 496.1 L992.1 495.9 L992.5 495.6 L992.8 495.4 L993.1 495.2 L993.4 495.0 L993.7 494.8 L994.0 494.6 L994.4 494.4 L994.7 494.2 L995.0 494.0 L995.3 493.8 L995.7 493.6 L996.0 493.4 L996.3 493.3 L996.6 493.1 L997.0 492.9 L997.3 492.8 L997.6 492.6 L997.9 492.4 L998.3 492.3 L998.6 492.2 L998.9 492.0 L999.3 491.9 L999.6 491.7 L999.9 491.6 L1000.3 491.5 L1000.6 491.4 L1000.9 491.3 L1001.3 491.2 L1001.6 491.1 L1001.9 491.0 L1002.3 490.9 L1002.6 490.8 L1003.0 490.7 L1003.3 490.6 L1003.6 490.5 L1004.0 490.5 L1004.3 490.4 L1004.6 490.3 L1005.0 490.3 L1005.3 490.2 L1005.7 490.2 L1006.0 490.1 L1006.3 490.1 L1006.7 490.0 L1007.0 490.0 L1007.3 490.0 L1007.7 490.0 L1008.0 489.9 L1008.4 489.9 L1008.7 489.9 L1009.0 489.9 L1009.4 489.9 L1009.7 489.9 L1010.1 489.9 L1010.4 490.0 L1010.7 490.0 L1011.1 490.0 L1011.4 490.0 L1011.7 490.1 L1012.1 490.1 L1012.4 490.1 L1012.7 490.2 L1013.1 490.2 L1013.4 490.3 L1013.7 490.4 L1014.1 490.4 L1014.4 490.5 L1014.7 490.6 L1271.4 547.9 L1271.7 548.0 L1271.9 548.1 L1272.2 548.1 L1272.5 548.2 L1272.8 548.3 L1273.1 548.4 L1273.4 548.5 L1273.7 548.6 L1274.0 548.7 L1274.3 548.8 L1274.6 548.9 L1274.8 549.0 L1275.1 549.1 L1275.4 549.3 L1275.7 549.4 L1276.0 549.5 L1276.2 549.6 L1276.5 549.8 L1276.8 549.9 L1277.1 550.1 L1277.4 550.2 L1277.6 550.4 L1277.9 550.5 L1278.2 550.7 L1278.4 550.8 L1278.7 551.0 L1279.0 551.2 L1279.3 551.3 L1279.5 551.5 L1279.8 551.7 L1280.0 551.9 L1280.3 552.1 L1280.6 552.3 L1280.8 552.5 L1281.1 552.7 L1281.3 552.9 L1281.6 553.1 L1281.9 553.3 L1282.1 553.5 L1282.4 553.7 L1282.6 554.0 L1282.9 554.2 L1283.1 554.4 L1283.3 554.7 L1283.6 554.9 L1283.8 555.1 L1284.1 555.4 L1284.3 555.6 L1284.5 555.9 L1284.8 556.1 L1285.0 556.4 L1285.2 556.7 L1285.5 556.9 L1285.7 557.2 L1285.9 557.5 L1286.2 557.7 L1286.4 558.0 L1286.6 558.3 L1286.8 558.6 L1287.0 558.9 L1287.2 559.2 L1287.5 559.5 L1287.7 559.8 L1287.9 560.1 L1288.1 560.4 L1288.3 560.7 L1288.5 561.0 L1288.7 561.3 L1288.9 561.6 L1289.1 561.9 L1289.3 562.3 L1289.5 562.6 L1289.7 562.9 L1289.9 563.2 L1290.1 563.6 L1290.2 563.9 L1290.4 564.3 L1290.6 564.6 L1290.8 565.0 L1291.0 565.3 L1291.1 565.7 L1291.3 566.0 L1291.5 566.4 L1291.7 566.7 L1291.8 567.1 L1292.0 567.5 L1292.1 567.8 L1292.3 568.2 L1292.5 568.6 L1292.6 568.9 L1292.8 569.3 L1292.9 569.7 L1293.1 570.1 L1293.2 570.5 L1293.4 570.9 L1293.5 571.2 L1293.6 571.6 L1293.8 572.0 L1293.9 572.4 L1294.0 572.8 L1294.2 573.2 L1294.3 573.6 L1294.4 574.0 L1294.5 574.4 L1294.7 574.8 L1294.8 575.3 L1294.9 575.7 L1295.0 576.1 L1295.1 576.5 L1295.2 576.9 L1295.3 577.3 L1295.4 577.8 L1295.5 578.2 L1295.6 578.6 L1295.7 579.0 L1295.8 579.5 L1295.9 579.9 L1296.0 580.3 L1296.1 580.8 L1296.1 581.2 L1296.2 581.7 L1296.3 582.1 L1296.4 582.5 L1296.4 583.0 L1296.5 583.4 L1296.6 583.9 L1296.6 584.3 L1296.7 584.8 L1296.8 585.2 L1296.8 585.7 L1296.9 586.1 L1296.9 586.6 L1297.0 587.0 L1297.0 587.5 L1297.1 587.9 L1297.1 588.4 L1297.1 588.8 L1297.2 589.3 L1297.2 589.8 L1297.2 590.2 L1297.3 590.7 L1297.3 591.1 L1297.3 591.6 L1297.3 592.1 L1297.3 592.5 L1297.4 593.0 L1297.4 593.5 L1297.4 593.9 L1297.4 594.4 L1297.4 594.9 L1297.4 595.3 L1297.4 595.8 L1297.4 596.3 L1297.4 596.7 L1297.4 597.2 L1297.4 597.7 L1297.3 598.2 L1297.3 598.6 L1297.3 599.1 L1297.3 599.6 L1297.3 600.0 L1297.2 600.5 L1297.2 601.0 L1297.2 601.5 L1297.1 601.9 L1297.1 602.4 L1297.0 602.9 L1297.0 603.3 L1296.9 603.8 L1296.9 604.3 L1296.8 604.7 L1296.8 605.2 L1296.7 605.7 L1296.7 606.2 L1296.6 606.6 L1296.5 607.1 L1296.5 607.6 L1296.4 608.0 L1296.3 608.5 L1296.3 609.0 L1296.2 609.4 L1296.1 609.9 L1296.0 610.4 L1295.9 610.8 L1295.8 611.3 L1295.8 611.8 L1295.7 612.2 L1295.6 612.7 L1295.5 613.1 L1295.4 613.6 L1295.3 614.1 L1295.2 614.5 L1295.0 615.0 L1294.9 615.4 L1294.8 615.9 L1294.7 616.3 L1294.6 616.8 L1294.5 617.2 L1294.3 617.7 L1294.2 618.1 L1294.1 618.6 L1294.0 619.0 L1293.8 619.5 L1293.7 619.9 L1293.6 620.4 L1293.4 620.8 L1293.3 621.2 L1293.1 621.7 L1293.0 622.1 L1292.8 622.6 L1292.7 623.0 L1292.5 623.4 L1292.4 623.8 L1292.2 624.3 L1292.0 624.7 L1291.9 625.1 L1291.7 625.5 L1291.6 626.0 L1291.4 626.4 L1291.2 626.8 L1291.0 627.2 L1290.9 627.6 L1290.7 628.0 L1290.5 628.5 L1290.3 628.9 L1290.1 629.3 L1290.0 629.7 L1289.8 630.1 L1289.6 630.5 L1289.4 630.9 L1289.2 631.3 L1289.0 631.6 L1288.8 632.0 L1288.6 632.4 L1288.4 632.8 L1288.2 633.2 L1288.0 633.6 L1287.8 633.9 L1287.6 634.3 L1287.3 634.7 L1287.1 635.1 L1286.9 635.4 L1286.7 635.8 L1286.5 636.2 L1286.2 636.5 L1286.0 636.9 L1285.8 637.2 L1285.6 637.6 L1285.3 637.9 L1285.1 638.3 L1284.9 638.6 L1284.6 639.0 L1284.4 639.3 L1284.2 639.6 L1283.9 640.0 L1283.7 640.3 L1283.4 640.6 L1283.2 640.9 L1283.0 641.3 L1282.7 641.6 L1282.5 641.9 L1282.2 642.2 L1282.0 642.5 L1281.7 642.8 L1281.5 643.1 L1281.2 643.4 L1280.9 643.7 L1280.7 644.0 L1280.4 644.3 L1280.2 644.6 L1279.9 644.9 L1279.6 645.1 L1279.4 645.4 L1279.1 645.7 L1278.8 645.9 L1278.6 646.2 L1278.3 646.5 L1278.0 646.7 L1277.7 647.0 L1277.5 647.2 L1277.2 647.5 L1276.9 647.7 L1276.6 648.0 L1276.4 648.2 L1276.1 648.4 L1275.8 648.7 L1275.5 648.9 L1275.2 649.1 L1275.0 649.3 L1274.7 649.6 L1274.4 649.8 L1274.1 650.0 L1273.8 650.2 L1273.5 650.4 L1273.2 650.6 L1272.9 650.8 L1272.7 651.0 L1272.4 651.1 L1272.1 651.3 L1271.8 651.5 L1271.5 651.7 L1271.2 651.8 L1270.9 652.0 L1270.6 652.2 L1270.3 652.3 L1270.0 652.5 L1269.7 652.6 L1269.4 652.8 L1269.1 652.9 L1268.8 653.1 L1268.5 653.2 L1268.2 653.3 L1267.9 653.5 L1267.6 653.6 L1267.3 653.7 L1267.0 653.8 L1266.7 653.9 L1266.4 654.0 L1266.1 654.2 L1265.8 654.3 L1265.5 654.3 L1265.2 654.4 L1264.9 654.5 L1264.6 654.6 L1264.3 654.7 L1264.0 654.8 L1263.7 654.8 L1263.4 654.9 L1263.1 655.0 L1262.8 655.0 L1262.5 655.1 L1262.2 655.1 L1261.9 655.2 L1261.6 655.2 L1261.2 655.3 L1260.9 655.3 L1260.6 655.3 L1260.3 655.4 L1260.0 655.4 L1259.7 655.4 L1259.4 655.4 L1259.1 655.4 L1258.8 655.4 L1258.5 655.4 L1258.2 655.4 L1257.9 655.4 L1257.6 655.4 L1257.3 655.4 L1257.0 655.4 L1256.7 655.3 L1256.4 655.3 L1256.1 655.3 L1255.8 655.3 L1255.5 655.2 L1255.2 655.2 L1254.9 655.1 Z" fill="#79cce0"/><g clip-path="url(#ck)"><path d="M0.0 321.2 L1536.0 620.7 L1536.0 632.3 L0.0 332.8 Z" fill="#c5edf4"/><path d="M0.0 332.8 L1536.0 632.3 L1536.0 655.0 L0.0 355.5 Z" fill="#7ccee1"/><path d="M0.0 385.1 L1536.0 684.6 L1536.0 785.0 L0.0 485.5 Z" fill="#5bb3c7"/></g><g clip-path="url(#ck)"><path d="M995.1 608.4 L994.8 608.2 L994.5 608.1 L994.1 608.0 L993.8 607.8 L993.5 607.7 L993.2 607.5 L992.9 607.3 L992.6 607.2 L992.2 607.0 L991.9 606.8 L991.6 606.7 L991.3 606.5 L991.0 606.3 L990.7 606.1 L990.4 605.9 L990.1 605.7 L989.8 605.5 L989.5 605.3 L989.2 605.1 L988.9 604.9 L988.6 604.7 L988.3 604.4 L988.0 604.2 L987.7 604.0 L987.4 603.8 L987.1 603.5 L986.8 603.3 L986.5 603.0 L986.2 602.8 L985.9 602.5 L985.7 602.3 L985.4 602.0 L985.1 601.7 L984.8 601.5 L984.5 601.2 L984.3 600.9 L984.0 600.6 L983.7 600.3 L983.4 600.0 L983.2 599.7 L982.9 599.4 L982.6 599.1 L982.4 598.8 L982.1 598.5 L981.9 598.2 L981.6 597.9 L981.3 597.6 L981.1 597.3 L980.8 596.9 L980.6 596.6 L980.3 596.3 L980.1 595.9 L979.8 595.6 L979.6 595.2 L979.4 594.9 L979.1 594.5 L978.9 594.2 L978.7 593.8 L978.4 593.5 L978.2 593.1 L978.0 592.7 L977.7 592.4 L977.5 592.0 L977.3 591.6 L977.1 591.2 L976.9 590.8 L976.7 590.5 L976.4 590.1 L976.2 589.7 L976.0 589.3 L975.8 588.9 L975.6 588.5 L975.4 588.1 L975.2 587.7 L975.0 587.2 L974.8 586.8 L974.6 586.4 L974.5 586.0 L974.3 585.6 L974.1 585.1 L973.9 584.7 L973.7 584.3 L973.6 583.9 L973.4 583.4 L973.2 583.0 L973.1 582.5 L972.9 582.1 L972.7 581.6 L972.6 581.2 L972.4 580.7 L972.3 580.3 L972.1 579.8 L972.0 579.4 L971.8 578.9 L971.7 578.5 L971.5 578.0 L971.4 577.5 L971.3 577.1 L971.1 576.6 L971.0 576.1 L970.9 575.6 L970.7 575.2 L970.6 574.7 L970.5 574.2 L970.4 573.7 L970.3 573.2 L970.2 572.8 L970.0 572.3 L969.9 571.8 L969.8 571.3 L969.7 570.8 L969.6 570.3 L969.5 569.8 L969.5 569.3 L969.4 568.8 L969.3 568.3 L969.2 567.8 L969.1 567.3 L969.0 566.8 L969.0 566.3 L968.9 565.8 L968.8 565.3 L968.8 564.8 L968.7 564.3 L968.6 563.8 L968.6 563.3 L968.5 562.7 L968.5 562.2 L968.4 561.7 L968.4 561.2 L968.4 560.7 L968.3 560.2 L968.3 559.6 L968.2 559.1 L968.2 558.6 L968.2 558.1 L968.2 557.6 L968.1 557.0 L968.1 556.5 L968.1 556.0 L968.1 555.5 L968.1 555.0 L968.1 554.4 L968.1 553.9 L968.1 553.4 L968.1 552.9 L968.1 552.3 L968.1 551.8 L968.1 551.3 L968.1 550.8 L968.1 550.2 L968.2 549.7 L968.2 549.2 L968.2 548.7 L968.2 548.1 L968.3 547.6 L968.3 547.1 L968.3 546.6 L968.4 546.0 L968.4 545.5 L968.5 545.0 L968.5 544.5 L968.6 543.9 L968.6 543.4 L968.7 542.9 L968.7 542.4 L968.8 541.9 L968.9 541.3 L969.0 540.8 L969.0 540.3 L969.1 539.8 L969.2 539.3 L969.3 538.8 L969.3 538.2 L969.4 537.7 L969.5 537.2 L969.6 536.7 L969.7 536.2 L969.8 535.7 L969.9 535.2 L970.0 534.7 L970.1 534.2 L970.2 533.7 L970.3 533.1 L970.5 532.6 L970.6 532.1 L970.7 531.6 L970.8 531.1 L970.9 530.6 L971.1 530.1 L971.2 529.7 L971.3 529.2 L971.5 528.7 L971.6 528.2 L971.8 527.7 L971.9 527.2 L972.1 526.7 L972.2 526.2 L972.4 525.8 L972.5 525.3 L972.7 524.8 L972.8 524.3 L973.0 523.9 L973.2 523.4 L973.3 522.9 L973.5 522.4 L973.7 522.0 L973.9 521.5 L974.0 521.1 L974.2 520.6 L974.4 520.1 L974.6 519.7 L974.8 519.2 L975.0 518.8 L975.2 518.3 L975.4 517.9 L975.6 517.4 L975.8 517.0 L976.0 516.6 L976.2 516.1 L976.4 515.7 L976.6 515.3 L976.8 514.8 L977.0 514.4 L977.2 514.0 L977.5 513.6 L977.7 513.2 L977.9 512.8 L978.1 512.3 L978.4 511.9 L978.6 511.5 L978.8 511.1 L979.1 510.7 L979.3 510.3 L979.5 509.9 L979.8 509.6 L980.0 509.2 L980.3 508.8 L980.5 508.4 L980.8 508.0 L981.0 507.7 L981.3 507.3 L981.5 506.9 L981.8 506.6 L982.0 506.2 L982.3 505.8 L982.6 505.5 L982.8 505.1 L983.1 504.8 L983.4 504.4 L983.6 504.1 L983.9 503.8 L984.2 503.4 L984.4 503.1 L984.7 502.8 L985.0 502.5 L985.3 502.1 L985.6 501.8 L985.9 501.5 L986.1 501.2 L986.4 500.9 L986.7 500.6 L987.0 500.3 L987.3 500.0 L987.6 499.7 L987.9 499.4 L988.2 499.1 L988.5 498.9 L988.8 498.6 L989.1 498.3 L989.4 498.1 L989.7 497.8 L990.0 497.5 L990.3 497.3 L990.6 497.0 L990.9 496.8 L991.2 496.6 L991.5 496.3 L991.8 496.1 L992.1 495.9 L992.5 495.6 L992.8 495.4 L993.1 495.2 L993.4 495.0 L993.7 494.8 L994.0 494.6 L994.4 494.4 L994.7 494.2 L995.0 494.0 L995.3 493.8 L995.7 493.6 L996.0 493.4 L996.3 493.3 L996.6 493.1 L997.0 492.9 L997.3 492.8 L997.6 492.6 L997.9 492.4 L998.3 492.3 L998.6 492.2 L998.9 492.0 L999.3 491.9 L999.6 491.7 L999.9 491.6 L1000.3 491.5 L1000.6 491.4 L1000.9 491.3 L1001.3 491.2 L1001.6 491.1 L1001.9 491.0 L1002.3 490.9 L1002.6 490.8 L1003.0 490.7 L1003.3 490.6 L1003.6 490.5 L1004.0 490.5 L1004.3 490.4 L1004.6 490.3 L1005.0 490.3 L1005.3 490.2 L1005.7 490.2 L1006.0 490.1 L1006.3 490.1 L1006.7 490.0 L1007.0 490.0 L1007.3 490.0 L1007.7 490.0 L1008.0 489.9 L1008.4 489.9 L1008.7 489.9 L1009.0 489.9 L1009.4 489.9 L1009.7 489.9 L1010.1 489.9 L1010.4 490.0 L1010.7 490.0 L1011.1 490.0 L1011.4 490.0 L1011.7 490.1 L1012.1 490.1 L1012.4 490.1 L1012.7 490.2 L1013.1 490.2 L1013.4 490.3 L1013.7 490.4 L1014.1 490.4 L1014.4 490.5 L1014.7 490.6 L1015.1 490.6 L1015.4 490.7 L1015.7 490.8 L1016.1 490.9 L1016.4 491.0 L1016.7 491.1 L1017.1 491.2 L1017.4 491.3 L1017.7 491.4 L1018.0 491.5 L1018.4 491.7" fill="none" stroke="#60b7cb" stroke-opacity="0.75" stroke-width="22" stroke-linecap="round"/></g><path d="M1254.6 655.1 L1000.4 609.9 L1000.0 609.8 L999.7 609.7 L999.4 609.7 L999.0 609.6 L998.7 609.5 L998.4 609.4 L998.0 609.4 L997.7 609.3 L997.4 609.2 L997.1 609.1 L996.7 609.0 L996.4 608.8 L996.1 608.7 L995.8 608.6 L995.4 608.5 L995.1 608.4 L994.8 608.2 L994.5 608.1 L994.1 608.0 L993.8 607.8 L993.5 607.7 L993.2 607.5 L992.9 607.3 L992.6 607.2 L992.2 607.0 L991.9 606.8 L991.6 606.7 L991.3 606.5 L991.0 606.3 L990.7 606.1 L990.4 605.9 L990.1 605.7 L989.8 605.5 L989.5 605.3 L989.2 605.1 L988.9 604.9 L988.6 604.7 L988.3 604.4 L988.0 604.2 L987.7 604.0 L987.4 603.8 L987.1 603.5 L986.8 603.3 L986.5 603.0 L986.2 602.8 L985.9 602.5 L985.7 602.3 L985.4 602.0 L985.1 601.7 L984.8 601.5 L984.5 601.2 L984.3 600.9 L984.0 600.6 L983.7 600.3 L983.4 600.0 L983.2 599.7 L982.9 599.4 L982.6 599.1 L982.4 598.8 L982.1 598.5 L981.9 598.2 L981.6 597.9 L981.3 597.6 L981.1 597.3 L980.8 596.9 L980.6 596.6 L980.3 596.3 L980.1 595.9 L979.8 595.6 L979.6 595.2 L979.4 594.9 L979.1 594.5 L978.9 594.2 L978.7 593.8 L978.4 593.5 L978.2 593.1 L978.0 592.7 L977.7 592.4 L977.5 592.0 L977.3 591.6 L977.1 591.2 L976.9 590.8 L976.7 590.5 L976.4 590.1 L976.2 589.7 L976.0 589.3 L975.8 588.9 L975.6 588.5 L975.4 588.1 L975.2 587.7 L975.0 587.2 L974.8 586.8 L974.6 586.4 L974.5 586.0 L974.3 585.6 L974.1 585.1 L973.9 584.7 L973.7 584.3 L973.6 583.9 L973.4 583.4 L973.2 583.0 L973.1 582.5 L972.9 582.1 L972.7 581.6 L972.6 581.2 L972.4 580.7 L972.3 580.3 L972.1 579.8 L972.0 579.4 L971.8 578.9 L971.7 578.5 L971.5 578.0 L971.4 577.5 L971.3 577.1 L971.1 576.6 L971.0 576.1 L970.9 575.6 L970.7 575.2 L970.6 574.7 L970.5 574.2 L970.4 573.7 L970.3 573.2 L970.2 572.8 L970.0 572.3 L969.9 571.8 L969.8 571.3 L969.7 570.8 L969.6 570.3 L969.5 569.8 L969.5 569.3 L969.4 568.8 L969.3 568.3 L969.2 567.8 L969.1 567.3 L969.0 566.8 L969.0 566.3 L968.9 565.8 L968.8 565.3 L968.8 564.8 L968.7 564.3 L968.6 563.8 L968.6 563.3 L968.5 562.7 L968.5 562.2 L968.4 561.7 L968.4 561.2 L968.4 560.7 L968.3 560.2 L968.3 559.6 L968.2 559.1 L968.2 558.6 L968.2 558.1 L968.2 557.6 L968.1 557.0 L968.1 556.5 L968.1 556.0 L968.1 555.5 L968.1 555.0 L968.1 554.4 L968.1 553.9 L968.1 553.4 L968.1 552.9 L968.1 552.3 L968.1 551.8 L968.1 551.3 L968.1 550.8 L968.1 550.2 L968.2 549.7 L968.2 549.2 L968.2 548.7 L968.2 548.1 L968.3 547.6 L968.3 547.1 L968.3 546.6 L968.4 546.0 L968.4 545.5 L968.5 545.0 L968.5 544.5 L968.6 543.9 L968.6 543.4 L968.7 542.9 L968.7 542.4 L968.8 541.9 L968.9 541.3 L969.0 540.8 L969.0 540.3 L969.1 539.8 L969.2 539.3 L969.3 538.8 L969.3 538.2 L969.4 537.7 L969.5 537.2 L969.6 536.7 L969.7 536.2 L969.8 535.7 L969.9 535.2 L970.0 534.7 L970.1 534.2 L970.2 533.7 L970.3 533.1 L970.5 532.6 L970.6 532.1 L970.7 531.6 L970.8 531.1 L970.9 530.6 L971.1 530.1 L971.2 529.7 L971.3 529.2 L971.5 528.7 L971.6 528.2 L971.8 527.7 L971.9 527.2 L972.1 526.7 L972.2 526.2 L972.4 525.8 L972.5 525.3 L972.7 524.8 L972.8 524.3 L973.0 523.9 L973.2 523.4 L973.3 522.9 L973.5 522.4 L973.7 522.0 L973.9 521.5 L974.0 521.1 L974.2 520.6 L974.4 520.1 L974.6 519.7 L974.8 519.2 L975.0 518.8 L975.2 518.3 L975.4 517.9 L975.6 517.4 L975.8 517.0 L976.0 516.6 L976.2 516.1 L976.4 515.7 L976.6 515.3 L976.8 514.8 L977.0 514.4 L977.2 514.0 L977.5 513.6 L977.7 513.2 L977.9 512.8 L978.1 512.3 L978.4 511.9 L978.6 511.5 L978.8 511.1 L979.1 510.7 L979.3 510.3 L979.5 509.9 L979.8 509.6 L980.0 509.2 L980.3 508.8 L980.5 508.4 L980.8 508.0 L981.0 507.7 L981.3 507.3 L981.5 506.9 L981.8 506.6 L982.0 506.2 L982.3 505.8 L982.6 505.5 L982.8 505.1 L983.1 504.8 L983.4 504.4 L983.6 504.1 L983.9 503.8 L984.2 503.4 L984.4 503.1 L984.7 502.8 L985.0 502.5 L985.3 502.1 L985.6 501.8 L985.9 501.5 L986.1 501.2 L986.4 500.9 L986.7 500.6 L987.0 500.3 L987.3 500.0 L987.6 499.7 L987.9 499.4 L988.2 499.1 L988.5 498.9 L988.8 498.6 L989.1 498.3 L989.4 498.1 L989.7 497.8 L990.0 497.5 L990.3 497.3 L990.6 497.0 L990.9 496.8 L991.2 496.6 L991.5 496.3 L991.8 496.1 L992.1 495.9 L992.5 495.6 L992.8 495.4 L993.1 495.2 L993.4 495.0 L993.7 494.8 L994.0 494.6 L994.4 494.4 L994.7 494.2 L995.0 494.0 L995.3 493.8 L995.7 493.6 L996.0 493.4 L996.3 493.3 L996.6 493.1 L997.0 492.9 L997.3 492.8 L997.6 492.6 L997.9 492.4 L998.3 492.3 L998.6 492.2 L998.9 492.0 L999.3 491.9 L999.6 491.7 L999.9 491.6 L1000.3 491.5 L1000.6 491.4 L1000.9 491.3 L1001.3 491.2 L1001.6 491.1 L1001.9 491.0 L1002.3 490.9 L1002.6 490.8 L1003.0 490.7 L1003.3 490.6 L1003.6 490.5 L1004.0 490.5 L1004.3 490.4 L1004.6 490.3 L1005.0 490.3 L1005.3 490.2 L1005.7 490.2 L1006.0 490.1 L1006.3 490.1 L1006.7 490.0 L1007.0 490.0 L1007.3 490.0 L1007.7 490.0 L1008.0 489.9 L1008.4 489.9 L1008.7 489.9 L1009.0 489.9 L1009.4 489.9 L1009.7 489.9 L1010.1 489.9 L1010.4 490.0 L1010.7 490.0 L1011.1 490.0 L1011.4 490.0 L1011.7 490.1 L1012.1 490.1 L1012.4 490.1 L1012.7 490.2 L1013.1 490.2 L1013.4 490.3 L1013.7 490.4 L1014.1 490.4 L1014.4 490.5 L1014.7 490.6 L1271.4 547.9 L1271.7 548.0 L1271.9 548.1 L1272.2 548.1 L1272.5 548.2 L1272.8 548.3 L1273.1 548.4 L1273.4 548.5 L1273.7 548.6 L1274.0 548.7 L1274.3 548.8 L1274.6 548.9 L1274.8 549.0 L1275.1 549.1 L1275.4 549.3 L1275.7 549.4 L1276.0 549.5 L1276.2 549.6 L1276.5 549.8 L1276.8 549.9 L1277.1 550.1 L1277.4 550.2 L1277.6 550.4 L1277.9 550.5 L1278.2 550.7 L1278.4 550.8 L1278.7 551.0 L1279.0 551.2 L1279.3 551.3 L1279.5 551.5 L1279.8 551.7 L1280.0 551.9 L1280.3 552.1 L1280.6 552.3 L1280.8 552.5 L1281.1 552.7 L1281.3 552.9 L1281.6 553.1 L1281.9 553.3 L1282.1 553.5 L1282.4 553.7 L1282.6 554.0 L1282.9 554.2 L1283.1 554.4 L1283.3 554.7 L1283.6 554.9 L1283.8 555.1 L1284.1 555.4 L1284.3 555.6 L1284.5 555.9 L1284.8 556.1 L1285.0 556.4 L1285.2 556.7 L1285.5 556.9 L1285.7 557.2 L1285.9 557.5 L1286.2 557.7 L1286.4 558.0 L1286.6 558.3 L1286.8 558.6 L1287.0 558.9 L1287.2 559.2 L1287.5 559.5 L1287.7 559.8 L1287.9 560.1 L1288.1 560.4 L1288.3 560.7 L1288.5 561.0 L1288.7 561.3 L1288.9 561.6 L1289.1 561.9 L1289.3 562.3 L1289.5 562.6 L1289.7 562.9 L1289.9 563.2 L1290.1 563.6 L1290.2 563.9 L1290.4 564.3 L1290.6 564.6 L1290.8 565.0 L1291.0 565.3 L1291.1 565.7 L1291.3 566.0 L1291.5 566.4 L1291.7 566.7 L1291.8 567.1 L1292.0 567.5 L1292.1 567.8 L1292.3 568.2 L1292.5 568.6 L1292.6 568.9 L1292.8 569.3 L1292.9 569.7 L1293.1 570.1 L1293.2 570.5 L1293.4 570.9 L1293.5 571.2 L1293.6 571.6 L1293.8 572.0 L1293.9 572.4 L1294.0 572.8 L1294.2 573.2 L1294.3 573.6 L1294.4 574.0 L1294.5 574.4 L1294.7 574.8 L1294.8 575.3 L1294.9 575.7 L1295.0 576.1 L1295.1 576.5 L1295.2 576.9 L1295.3 577.3 L1295.4 577.8 L1295.5 578.2 L1295.6 578.6 L1295.7 579.0 L1295.8 579.5 L1295.9 579.9 L1296.0 580.3 L1296.1 580.8 L1296.1 581.2 L1296.2 581.7 L1296.3 582.1 L1296.4 582.5 L1296.4 583.0 L1296.5 583.4 L1296.6 583.9 L1296.6 584.3 L1296.7 584.8 L1296.8 585.2 L1296.8 585.7 L1296.9 586.1 L1296.9 586.6 L1297.0 587.0 L1297.0 587.5 L1297.1 587.9 L1297.1 588.4 L1297.1 588.8 L1297.2 589.3 L1297.2 589.8 L1297.2 590.2 L1297.3 590.7 L1297.3 591.1 L1297.3 591.6 L1297.3 592.1 L1297.3 592.5 L1297.4 593.0 L1297.4 593.5 L1297.4 593.9 L1297.4 594.4 L1297.4 594.9 L1297.4 595.3 L1297.4 595.8 L1297.4 596.3 L1297.4 596.7 L1297.4 597.2 L1297.4 597.7 L1297.3 598.2 L1297.3 598.6 L1297.3 599.1 L1297.3 599.6 L1297.3 600.0 L1297.2 600.5 L1297.2 601.0 L1297.2 601.5 L1297.1 601.9 L1297.1 602.4 L1297.0 602.9 L1297.0 603.3 L1296.9 603.8 L1296.9 604.3 L1296.8 604.7 L1296.8 605.2 L1296.7 605.7 L1296.7 606.2 L1296.6 606.6 L1296.5 607.1 L1296.5 607.6 L1296.4 608.0 L1296.3 608.5 L1296.3 609.0 L1296.2 609.4 L1296.1 609.9 L1296.0 610.4 L1295.9 610.8 L1295.8 611.3 L1295.8 611.8 L1295.7 612.2 L1295.6 612.7 L1295.5 613.1 L1295.4 613.6 L1295.3 614.1 L1295.2 614.5 L1295.0 615.0 L1294.9 615.4 L1294.8 615.9 L1294.7 616.3 L1294.6 616.8 L1294.5 617.2 L1294.3 617.7 L1294.2 618.1 L1294.1 618.6 L1294.0 619.0 L1293.8 619.5 L1293.7 619.9 L1293.6 620.4 L1293.4 620.8 L1293.3 621.2 L1293.1 621.7 L1293.0 622.1 L1292.8 622.6 L1292.7 623.0 L1292.5 623.4 L1292.4 623.8 L1292.2 624.3 L1292.0 624.7 L1291.9 625.1 L1291.7 625.5 L1291.6 626.0 L1291.4 626.4 L1291.2 626.8 L1291.0 627.2 L1290.9 627.6 L1290.7 628.0 L1290.5 628.5 L1290.3 628.9 L1290.1 629.3 L1290.0 629.7 L1289.8 630.1 L1289.6 630.5 L1289.4 630.9 L1289.2 631.3 L1289.0 631.6 L1288.8 632.0 L1288.6 632.4 L1288.4 632.8 L1288.2 633.2 L1288.0 633.6 L1287.8 633.9 L1287.6 634.3 L1287.3 634.7 L1287.1 635.1 L1286.9 635.4 L1286.7 635.8 L1286.5 636.2 L1286.2 636.5 L1286.0 636.9 L1285.8 637.2 L1285.6 637.6 L1285.3 637.9 L1285.1 638.3 L1284.9 638.6 L1284.6 639.0 L1284.4 639.3 L1284.2 639.6 L1283.9 640.0 L1283.7 640.3 L1283.4 640.6 L1283.2 640.9 L1283.0 641.3 L1282.7 641.6 L1282.5 641.9 L1282.2 642.2 L1282.0 642.5 L1281.7 642.8 L1281.5 643.1 L1281.2 643.4 L1280.9 643.7 L1280.7 644.0 L1280.4 644.3 L1280.2 644.6 L1279.9 644.9 L1279.6 645.1 L1279.4 645.4 L1279.1 645.7 L1278.8 645.9 L1278.6 646.2 L1278.3 646.5 L1278.0 646.7 L1277.7 647.0 L1277.5 647.2 L1277.2 647.5 L1276.9 647.7 L1276.6 648.0 L1276.4 648.2 L1276.1 648.4 L1275.8 648.7 L1275.5 648.9 L1275.2 649.1 L1275.0 649.3 L1274.7 649.6 L1274.4 649.8 L1274.1 650.0 L1273.8 650.2 L1273.5 650.4 L1273.2 650.6 L1272.9 650.8 L1272.7 651.0 L1272.4 651.1 L1272.1 651.3 L1271.8 651.5 L1271.5 651.7 L1271.2 651.8 L1270.9 652.0 L1270.6 652.2 L1270.3 652.3 L1270.0 652.5 L1269.7 652.6 L1269.4 652.8 L1269.1 652.9 L1268.8 653.1 L1268.5 653.2 L1268.2 653.3 L1267.9 653.5 L1267.6 653.6 L1267.3 653.7 L1267.0 653.8 L1266.7 653.9 L1266.4 654.0 L1266.1 654.2 L1265.8 654.3 L1265.5 654.3 L1265.2 654.4 L1264.9 654.5 L1264.6 654.6 L1264.3 654.7 L1264.0 654.8 L1263.7 654.8 L1263.4 654.9 L1263.1 655.0 L1262.8 655.0 L1262.5 655.1 L1262.2 655.1 L1261.9 655.2 L1261.6 655.2 L1261.2 655.3 L1260.9 655.3 L1260.6 655.3 L1260.3 655.4 L1260.0 655.4 L1259.7 655.4 L1259.4 655.4 L1259.1 655.4 L1258.8 655.4 L1258.5 655.4 L1258.2 655.4 L1257.9 655.4 L1257.6 655.4 L1257.3 655.4 L1257.0 655.4 L1256.7 655.3 L1256.4 655.3 L1256.1 655.3 L1255.8 655.3 L1255.5 655.2 L1255.2 655.2 L1254.9 655.1 Z" fill="none" stroke="#182126" stroke-width="4.0" stroke-linejoin="round"/><ellipse cx="1262.6" cy="601.4" rx="34.4" ry="54.3" transform="rotate(7.13 1262.6 601.4)" fill="#6abed2" stroke="#182126" stroke-width="4.0"/><path d="M861 150.4 H696 V360" fill="none" stroke="#182126" stroke-width="4.2"/><path d="M995.3 302.9 H845.5 V440" fill="none" stroke="#182126" stroke-width="4.2"/><path d="M671 811.4 H1131.1 V603" fill="none" stroke="#182126" stroke-width="4.2" stroke-linejoin="round"/><g opacity="0.999" font-family="Liberation Sans" fill="#1e2629" stroke="#1e2629" stroke-width="2.0" stroke-linejoin="round"><text transform="translate(887.40 172.30) scale(0.9628 1)" x="-3.11" y="0" font-size="61.34">C</text><text transform="translate(930.60 172.30) scale(0.9840 1)" x="-2.91" y="0" font-size="61.34">O</text><text transform="translate(983.90 172.30) scale(0.8704 1)" x="-5.03" y="0" font-size="61.34">R</text><text transform="translate(1027.70 172.30) scale(0.8452 1)" x="-5.03" y="0" font-size="61.34">E</text><text transform="translate(1021.50 322.90) scale(0.9330 1)" x="-3.14" y="0" font-size="61.77">C</text><text transform="translate(1069.60 322.90) scale(0.9693 1)" x="-5.07" y="0" font-size="61.77">L</text><text transform="translate(1103.00 322.90) scale(0.9228 1)" x="-0.12" y="0" font-size="61.77">A</text><text transform="translate(1151.60 322.90) scale(0.9402 1)" x="-5.07" y="0" font-size="61.77">D</text><text transform="translate(1198.00 322.90) scale(0.9566 1)" x="-5.07" y="0" font-size="61.77">D</text><text transform="translate(1244.30 322.90) scale(0.9894 1)" x="-5.70" y="0" font-size="61.77">I</text><text transform="translate(1264.00 322.90) scale(0.9737 1)" x="-5.07" y="0" font-size="61.77">N</text><text transform="translate(1308.70 322.90) scale(0.9398 1)" x="-3.11" y="0" font-size="61.77">G</text><text transform="translate(250.60 821.00) scale(0.8942 1)" x="-5.07" y="0" font-size="61.77">P</text><text transform="translate(291.00 821.00) scale(0.8643 1)" x="-5.07" y="0" font-size="61.77">R</text><text transform="translate(330.60 821.00) scale(0.9581 1)" x="-2.93" y="0" font-size="61.77">O</text><text transform="translate(377.00 821.00) scale(0.9448 1)" x="-1.39" y="0" font-size="61.77">T</text><text transform="translate(420.00 821.00) scale(0.8214 1)" x="-5.07" y="0" font-size="61.77">E</text><text transform="translate(456.70 821.00) scale(0.9279 1)" x="-3.14" y="0" font-size="61.77">C</text><text transform="translate(500.50 821.00) scale(0.9390 1)" x="-1.39" y="0" font-size="61.77">T</text><text transform="translate(542.90 821.00) scale(1.0588 1)" x="-5.70" y="0" font-size="61.77">I</text><text transform="translate(560.00 821.00) scale(0.9247 1)" x="-0.27" y="0" font-size="61.77">V</text><text transform="translate(607.00 821.00) scale(0.8423 1)" x="-5.07" y="0" font-size="61.77">E</text><text transform="translate(323.30 891.70) scale(0.9680 1)" x="-0.97" y="0" font-size="62.21">J</text><text transform="translate(357.60 891.70) scale(0.9309 1)" x="-0.12" y="0" font-size="62.21">A</text><text transform="translate(402.40 891.70) scale(0.9290 1)" x="-3.16" y="0" font-size="62.21">C</text><text transform="translate(449.90 891.70) scale(0.9274 1)" x="-5.10" y="0" font-size="62.21">K</text><text transform="translate(492.00 891.70) scale(0.8304 1)" x="-5.10" y="0" font-size="62.21">E</text><text transform="translate(526.30 891.70) scale(0.9581 1)" x="-1.40" y="0" font-size="62.21">T</text></g><g opacity="0.999"><rect x="1237.2" y="926.1" width="284.2" height="81.1" rx="10.5" fill="#ffffff" stroke="#aaaaa2" stroke-width="2.6"/><rect x="1453" y="941" width="52" height="51.8" rx="5" fill="#231f20"/><g transform="translate(1453 941)" fill="#e3262b"><path d="M9 11.2 L12.9 7.3 L16.3 6.8 L18.3 10.3 L19.2 18.1 L17.3 19 L18.3 24.9 L22.7 33.7 L27.5 38.6 L31.9 37.6 L36.3 40.5 L40.2 46.4 L37.3 48.8 L30.5 48.8 L22.7 45.4 L14.8 37.6 L10 27.8 L8 18 Z" stroke="#e3262b" stroke-width="1" stroke-linejoin="round"/><path d="M20.3 5.6 L24.8 14.4 M37 35.6 L43.6 43.3" stroke="#e3262b" stroke-width="4.6" stroke-linecap="round"/></g><text id="bt1" x="1253.4" y="959.8" font-family="Liberation Sans" font-weight="bold" font-size="16" fill="#3a3a3a" textLength="193" lengthAdjust="spacingAndGlyphs">AccuTech Communication</text><text id="bt2" x="1276" y="983" font-family="Liberation Sans" font-size="16.5" fill="#7a7a7a" textLength="170.3" lengthAdjust="spacingAndGlyphs">www.accutechcom.com</text></g></svg>
</body></html>
